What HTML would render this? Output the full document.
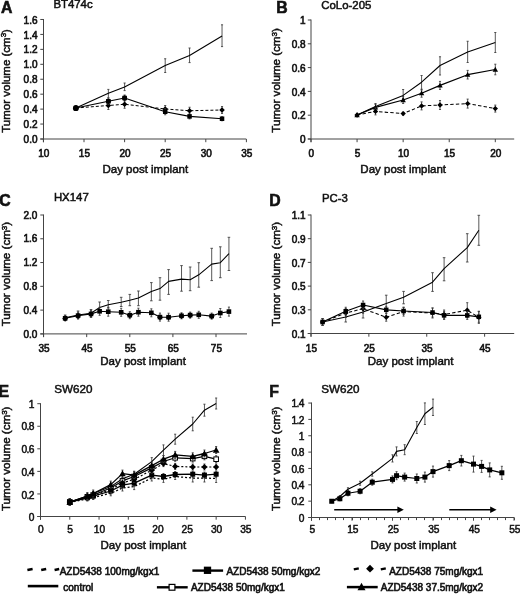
<!DOCTYPE html>
<html><head><meta charset="utf-8"><title>Figure</title>
<style>
html,body{margin:0;padding:0;background:#fff;}
svg{display:block;}
svg text{font-family:"Liberation Sans",Arial,Helvetica,sans-serif;fill:#111;stroke:#111;stroke-width:0.5px;}
svg text.t{stroke-width:0.6px;}
svg text.u{stroke-width:0.5px;}
</style></head><body>
<svg width="520" height="594" viewBox="0 0 520 594">
<rect width="520" height="594" fill="#fff"/>
<text x="1.00" y="12.60" font-size="15.8" text-anchor="start" font-weight="bold" style="stroke-width:0.6px">A</text>
<text x="53.40" y="8.20" font-size="11.4" text-anchor="start" font-weight="normal" style="stroke-width:0.5px">BT474c</text>
<line x1="40.30" y1="139.00" x2="246.30" y2="139.00" stroke="#444" stroke-width="1" />
<line x1="43.50" y1="19.00" x2="43.50" y2="142.20" stroke="#444" stroke-width="1" />
<line x1="43.40" y1="139.00" x2="43.40" y2="142.20" stroke="#444" stroke-width="1" />
<text x="43.80" y="156.80" font-size="10" text-anchor="middle" font-weight="normal" class="t">10</text>
<line x1="84.00" y1="139.00" x2="84.00" y2="142.20" stroke="#444" stroke-width="1" />
<text x="84.40" y="156.80" font-size="10" text-anchor="middle" font-weight="normal" class="t">15</text>
<line x1="124.60" y1="139.00" x2="124.60" y2="142.20" stroke="#444" stroke-width="1" />
<text x="125.00" y="156.80" font-size="10" text-anchor="middle" font-weight="normal" class="t">20</text>
<line x1="165.20" y1="139.00" x2="165.20" y2="142.20" stroke="#444" stroke-width="1" />
<text x="165.60" y="156.80" font-size="10" text-anchor="middle" font-weight="normal" class="t">25</text>
<line x1="205.80" y1="139.00" x2="205.80" y2="142.20" stroke="#444" stroke-width="1" />
<text x="206.20" y="156.80" font-size="10" text-anchor="middle" font-weight="normal" class="t">30</text>
<line x1="246.40" y1="139.00" x2="246.40" y2="142.20" stroke="#444" stroke-width="1" />
<text x="246.80" y="156.80" font-size="10" text-anchor="middle" font-weight="normal" class="t">35</text>
<line x1="40.30" y1="139.00" x2="43.50" y2="139.00" stroke="#444" stroke-width="1" />
<text x="37.50" y="143.10" font-size="10" text-anchor="end" font-weight="normal" class="t">0.0</text>
<line x1="40.30" y1="124.06" x2="43.50" y2="124.06" stroke="#444" stroke-width="1" />
<text x="37.50" y="128.16" font-size="10" text-anchor="end" font-weight="normal" class="t">0.2</text>
<line x1="40.30" y1="109.12" x2="43.50" y2="109.12" stroke="#444" stroke-width="1" />
<text x="37.50" y="113.22" font-size="10" text-anchor="end" font-weight="normal" class="t">0.4</text>
<line x1="40.30" y1="94.18" x2="43.50" y2="94.18" stroke="#444" stroke-width="1" />
<text x="37.50" y="98.28" font-size="10" text-anchor="end" font-weight="normal" class="t">0.6</text>
<line x1="40.30" y1="79.24" x2="43.50" y2="79.24" stroke="#444" stroke-width="1" />
<text x="37.50" y="83.34" font-size="10" text-anchor="end" font-weight="normal" class="t">0.8</text>
<line x1="40.30" y1="64.30" x2="43.50" y2="64.30" stroke="#444" stroke-width="1" />
<text x="37.50" y="68.40" font-size="10" text-anchor="end" font-weight="normal" class="t">1.0</text>
<line x1="40.30" y1="49.36" x2="43.50" y2="49.36" stroke="#444" stroke-width="1" />
<text x="37.50" y="53.46" font-size="10" text-anchor="end" font-weight="normal" class="t">1.2</text>
<line x1="40.30" y1="34.42" x2="43.50" y2="34.42" stroke="#444" stroke-width="1" />
<text x="37.50" y="38.52" font-size="10" text-anchor="end" font-weight="normal" class="t">1.4</text>
<line x1="40.30" y1="19.48" x2="43.50" y2="19.48" stroke="#444" stroke-width="1" />
<text x="37.50" y="23.58" font-size="10" text-anchor="end" font-weight="normal" class="t">1.6</text>
<text transform="translate(10.10,80.90) rotate(-90)" font-size="11.5" text-anchor="middle">Tumor volume (cm<tspan font-size="8" dy="-3.7">3</tspan><tspan dy="3.7">)</tspan></text>
<text x="145.30" y="173.00" font-size="11.5" text-anchor="middle" font-weight="normal" >Day post implant</text>
<line x1="75.88" y1="106.00" x2="75.88" y2="110.00" stroke="#3a3a3a" stroke-width="0.85" />
<line x1="74.83" y1="106.00" x2="76.93" y2="106.00" stroke="#3a3a3a" stroke-width="0.85" />
<line x1="74.83" y1="110.00" x2="76.93" y2="110.00" stroke="#3a3a3a" stroke-width="0.85" />
<line x1="108.36" y1="89.40" x2="108.36" y2="97.70" stroke="#3a3a3a" stroke-width="0.85" />
<line x1="107.31" y1="89.40" x2="109.41" y2="89.40" stroke="#3a3a3a" stroke-width="0.85" />
<line x1="107.31" y1="97.70" x2="109.41" y2="97.70" stroke="#3a3a3a" stroke-width="0.85" />
<line x1="124.60" y1="83.00" x2="124.60" y2="90.60" stroke="#3a3a3a" stroke-width="0.85" />
<line x1="123.55" y1="83.00" x2="125.65" y2="83.00" stroke="#3a3a3a" stroke-width="0.85" />
<line x1="123.55" y1="90.60" x2="125.65" y2="90.60" stroke="#3a3a3a" stroke-width="0.85" />
<line x1="165.20" y1="58.75" x2="165.20" y2="72.50" stroke="#3a3a3a" stroke-width="0.85" />
<line x1="164.15" y1="58.75" x2="166.25" y2="58.75" stroke="#3a3a3a" stroke-width="0.85" />
<line x1="164.15" y1="72.50" x2="166.25" y2="72.50" stroke="#3a3a3a" stroke-width="0.85" />
<line x1="189.56" y1="48.00" x2="189.56" y2="62.60" stroke="#3a3a3a" stroke-width="0.85" />
<line x1="188.51" y1="48.00" x2="190.61" y2="48.00" stroke="#3a3a3a" stroke-width="0.85" />
<line x1="188.51" y1="62.60" x2="190.61" y2="62.60" stroke="#3a3a3a" stroke-width="0.85" />
<line x1="222.04" y1="24.80" x2="222.04" y2="46.60" stroke="#3a3a3a" stroke-width="0.85" />
<line x1="220.99" y1="24.80" x2="223.09" y2="24.80" stroke="#3a3a3a" stroke-width="0.85" />
<line x1="220.99" y1="46.60" x2="223.09" y2="46.60" stroke="#3a3a3a" stroke-width="0.85" />
<polyline points="75.88,108.00 108.36,93.20 124.60,86.90 165.20,65.50 189.56,55.50 222.04,36.00" fill="none" stroke="#000" stroke-width="1.08" stroke-linejoin="round" />
<line x1="75.88" y1="105.50" x2="75.88" y2="110.50" stroke="#3a3a3a" stroke-width="0.85" />
<line x1="74.83" y1="105.50" x2="76.93" y2="105.50" stroke="#3a3a3a" stroke-width="0.85" />
<line x1="74.83" y1="110.50" x2="76.93" y2="110.50" stroke="#3a3a3a" stroke-width="0.85" />
<line x1="108.36" y1="101.50" x2="108.36" y2="109.50" stroke="#3a3a3a" stroke-width="0.85" />
<line x1="107.31" y1="101.50" x2="109.41" y2="101.50" stroke="#3a3a3a" stroke-width="0.85" />
<line x1="107.31" y1="109.50" x2="109.41" y2="109.50" stroke="#3a3a3a" stroke-width="0.85" />
<line x1="124.60" y1="100.25" x2="124.60" y2="108.25" stroke="#3a3a3a" stroke-width="0.85" />
<line x1="123.55" y1="100.25" x2="125.65" y2="100.25" stroke="#3a3a3a" stroke-width="0.85" />
<line x1="123.55" y1="108.25" x2="125.65" y2="108.25" stroke="#3a3a3a" stroke-width="0.85" />
<line x1="165.20" y1="105.50" x2="165.20" y2="112.50" stroke="#3a3a3a" stroke-width="0.85" />
<line x1="164.15" y1="105.50" x2="166.25" y2="105.50" stroke="#3a3a3a" stroke-width="0.85" />
<line x1="164.15" y1="112.50" x2="166.25" y2="112.50" stroke="#3a3a3a" stroke-width="0.85" />
<line x1="189.56" y1="107.25" x2="189.56" y2="114.25" stroke="#3a3a3a" stroke-width="0.85" />
<line x1="188.51" y1="107.25" x2="190.61" y2="107.25" stroke="#3a3a3a" stroke-width="0.85" />
<line x1="188.51" y1="114.25" x2="190.61" y2="114.25" stroke="#3a3a3a" stroke-width="0.85" />
<line x1="222.04" y1="106.50" x2="222.04" y2="113.50" stroke="#3a3a3a" stroke-width="0.85" />
<line x1="220.99" y1="106.50" x2="223.09" y2="106.50" stroke="#3a3a3a" stroke-width="0.85" />
<line x1="220.99" y1="113.50" x2="223.09" y2="113.50" stroke="#3a3a3a" stroke-width="0.85" />
<polyline points="75.88,108.00 108.36,105.50 124.60,104.25 165.20,109.00 189.56,110.75 222.04,110.00" fill="none" stroke="#000" stroke-width="1.0" stroke-linejoin="round" stroke-dasharray="3 2"/>
<path d="M75.88,105.20 L78.68,108.00 L75.88,110.80 L73.08,108.00Z" fill="#000"/>
<path d="M108.36,102.70 L111.16,105.50 L108.36,108.30 L105.56,105.50Z" fill="#000"/>
<path d="M124.60,101.45 L127.40,104.25 L124.60,107.05 L121.80,104.25Z" fill="#000"/>
<path d="M165.20,106.20 L168.00,109.00 L165.20,111.80 L162.40,109.00Z" fill="#000"/>
<path d="M189.56,107.95 L192.36,110.75 L189.56,113.55 L186.76,110.75Z" fill="#000"/>
<path d="M222.04,107.20 L224.84,110.00 L222.04,112.80 L219.24,110.00Z" fill="#000"/>
<line x1="75.88" y1="105.50" x2="75.88" y2="110.50" stroke="#3a3a3a" stroke-width="0.85" />
<line x1="74.83" y1="105.50" x2="76.93" y2="105.50" stroke="#3a3a3a" stroke-width="0.85" />
<line x1="74.83" y1="110.50" x2="76.93" y2="110.50" stroke="#3a3a3a" stroke-width="0.85" />
<line x1="108.36" y1="98.25" x2="108.36" y2="104.25" stroke="#3a3a3a" stroke-width="0.85" />
<line x1="107.31" y1="98.25" x2="109.41" y2="98.25" stroke="#3a3a3a" stroke-width="0.85" />
<line x1="107.31" y1="104.25" x2="109.41" y2="104.25" stroke="#3a3a3a" stroke-width="0.85" />
<line x1="124.60" y1="95.00" x2="124.60" y2="101.00" stroke="#3a3a3a" stroke-width="0.85" />
<line x1="123.55" y1="95.00" x2="125.65" y2="95.00" stroke="#3a3a3a" stroke-width="0.85" />
<line x1="123.55" y1="101.00" x2="125.65" y2="101.00" stroke="#3a3a3a" stroke-width="0.85" />
<line x1="165.20" y1="108.75" x2="165.20" y2="114.75" stroke="#3a3a3a" stroke-width="0.85" />
<line x1="164.15" y1="108.75" x2="166.25" y2="108.75" stroke="#3a3a3a" stroke-width="0.85" />
<line x1="164.15" y1="114.75" x2="166.25" y2="114.75" stroke="#3a3a3a" stroke-width="0.85" />
<line x1="189.56" y1="113.90" x2="189.56" y2="118.90" stroke="#3a3a3a" stroke-width="0.85" />
<line x1="188.51" y1="113.90" x2="190.61" y2="113.90" stroke="#3a3a3a" stroke-width="0.85" />
<line x1="188.51" y1="118.90" x2="190.61" y2="118.90" stroke="#3a3a3a" stroke-width="0.85" />
<line x1="222.04" y1="116.75" x2="222.04" y2="120.75" stroke="#3a3a3a" stroke-width="0.85" />
<line x1="220.99" y1="116.75" x2="223.09" y2="116.75" stroke="#3a3a3a" stroke-width="0.85" />
<line x1="220.99" y1="120.75" x2="223.09" y2="120.75" stroke="#3a3a3a" stroke-width="0.85" />
<polyline points="75.88,108.00 108.36,101.25 124.60,98.00 165.20,111.75 189.56,116.40 222.04,118.75" fill="none" stroke="#000" stroke-width="1.2" stroke-linejoin="round" />
<rect x="73.63" y="105.75" width="4.5" height="4.5" fill="#000" stroke="none" stroke-width="0"/>
<rect x="106.11" y="99.00" width="4.5" height="4.5" fill="#000" stroke="none" stroke-width="0"/>
<rect x="122.35" y="95.75" width="4.5" height="4.5" fill="#000" stroke="none" stroke-width="0"/>
<rect x="162.95" y="109.50" width="4.5" height="4.5" fill="#000" stroke="none" stroke-width="0"/>
<rect x="187.31" y="114.15" width="4.5" height="4.5" fill="#000" stroke="none" stroke-width="0"/>
<rect x="219.79" y="116.50" width="4.5" height="4.5" fill="#000" stroke="none" stroke-width="0"/>
<circle cx="75.88" cy="108.20" r="2.9" fill="#000"/>
<circle cx="108.36" cy="101.25" r="2.5" fill="#000"/>
<circle cx="124.60" cy="98.00" r="2.5" fill="#000"/>
<text x="276.20" y="12.60" font-size="15.8" text-anchor="start" font-weight="bold" style="stroke-width:0.6px">B</text>
<text x="321.30" y="8.50" font-size="11.4" text-anchor="start" font-weight="normal" style="stroke-width:0.5px">CoLo-205</text>
<line x1="307.80" y1="139.00" x2="514.20" y2="139.00" stroke="#444" stroke-width="1" />
<line x1="311.00" y1="19.50" x2="311.00" y2="142.20" stroke="#444" stroke-width="1" />
<line x1="311.00" y1="139.00" x2="311.00" y2="142.20" stroke="#444" stroke-width="1" />
<text x="311.40" y="156.80" font-size="10" text-anchor="middle" font-weight="normal" class="t">0</text>
<line x1="357.07" y1="139.00" x2="357.07" y2="142.20" stroke="#444" stroke-width="1" />
<text x="357.47" y="156.80" font-size="10" text-anchor="middle" font-weight="normal" class="t">5</text>
<line x1="403.15" y1="139.00" x2="403.15" y2="142.20" stroke="#444" stroke-width="1" />
<text x="403.55" y="156.80" font-size="10" text-anchor="middle" font-weight="normal" class="t">10</text>
<line x1="449.23" y1="139.00" x2="449.23" y2="142.20" stroke="#444" stroke-width="1" />
<text x="449.62" y="156.80" font-size="10" text-anchor="middle" font-weight="normal" class="t">15</text>
<line x1="495.30" y1="139.00" x2="495.30" y2="142.20" stroke="#444" stroke-width="1" />
<text x="495.70" y="156.80" font-size="10" text-anchor="middle" font-weight="normal" class="t">20</text>
<line x1="307.80" y1="139.00" x2="311.00" y2="139.00" stroke="#444" stroke-width="1" />
<text x="305.60" y="143.20" font-size="10" text-anchor="end" font-weight="normal" class="t">0</text>
<line x1="307.80" y1="115.20" x2="311.00" y2="115.20" stroke="#444" stroke-width="1" />
<text x="305.60" y="119.40" font-size="10" text-anchor="end" font-weight="normal" class="t">0.2</text>
<line x1="307.80" y1="91.40" x2="311.00" y2="91.40" stroke="#444" stroke-width="1" />
<text x="305.60" y="95.60" font-size="10" text-anchor="end" font-weight="normal" class="t">0.4</text>
<line x1="307.80" y1="67.60" x2="311.00" y2="67.60" stroke="#444" stroke-width="1" />
<text x="305.60" y="71.80" font-size="10" text-anchor="end" font-weight="normal" class="t">0.6</text>
<line x1="307.80" y1="43.80" x2="311.00" y2="43.80" stroke="#444" stroke-width="1" />
<text x="305.60" y="48.00" font-size="10" text-anchor="end" font-weight="normal" class="t">0.8</text>
<line x1="307.80" y1="20.00" x2="311.00" y2="20.00" stroke="#444" stroke-width="1" />
<text x="305.60" y="24.20" font-size="10" text-anchor="end" font-weight="normal" class="t">1</text>
<text transform="translate(280.40,80.40) rotate(-90)" font-size="11.6" text-anchor="middle">Tumor volume (cm<tspan font-size="8" dy="-3.7">3</tspan><tspan dy="3.7">)</tspan></text>
<text x="403.20" y="173.00" font-size="11.5" text-anchor="middle" font-weight="normal" >Day post implant</text>
<line x1="375.50" y1="103.50" x2="375.50" y2="109.50" stroke="#3a3a3a" stroke-width="0.85" />
<line x1="374.45" y1="103.50" x2="376.56" y2="103.50" stroke="#3a3a3a" stroke-width="0.85" />
<line x1="374.45" y1="109.50" x2="376.56" y2="109.50" stroke="#3a3a3a" stroke-width="0.85" />
<line x1="403.15" y1="89.50" x2="403.15" y2="98.50" stroke="#3a3a3a" stroke-width="0.85" />
<line x1="402.10" y1="89.50" x2="404.20" y2="89.50" stroke="#3a3a3a" stroke-width="0.85" />
<line x1="402.10" y1="98.50" x2="404.20" y2="98.50" stroke="#3a3a3a" stroke-width="0.85" />
<line x1="421.58" y1="75.50" x2="421.58" y2="90.00" stroke="#3a3a3a" stroke-width="0.85" />
<line x1="420.53" y1="75.50" x2="422.63" y2="75.50" stroke="#3a3a3a" stroke-width="0.85" />
<line x1="420.53" y1="90.00" x2="422.63" y2="90.00" stroke="#3a3a3a" stroke-width="0.85" />
<line x1="440.01" y1="56.75" x2="440.01" y2="75.00" stroke="#3a3a3a" stroke-width="0.85" />
<line x1="438.96" y1="56.75" x2="441.06" y2="56.75" stroke="#3a3a3a" stroke-width="0.85" />
<line x1="438.96" y1="75.00" x2="441.06" y2="75.00" stroke="#3a3a3a" stroke-width="0.85" />
<line x1="467.65" y1="41.25" x2="467.65" y2="62.50" stroke="#3a3a3a" stroke-width="0.85" />
<line x1="466.60" y1="41.25" x2="468.70" y2="41.25" stroke="#3a3a3a" stroke-width="0.85" />
<line x1="466.60" y1="62.50" x2="468.70" y2="62.50" stroke="#3a3a3a" stroke-width="0.85" />
<line x1="495.30" y1="32.50" x2="495.30" y2="52.50" stroke="#3a3a3a" stroke-width="0.85" />
<line x1="494.25" y1="32.50" x2="496.35" y2="32.50" stroke="#3a3a3a" stroke-width="0.85" />
<line x1="494.25" y1="52.50" x2="496.35" y2="52.50" stroke="#3a3a3a" stroke-width="0.85" />
<polyline points="357.07,115.00 375.50,106.60 403.15,95.40 421.58,82.20 440.01,65.50 467.65,52.00 495.30,42.50" fill="none" stroke="#000" stroke-width="1.08" stroke-linejoin="round" />
<line x1="357.07" y1="113.50" x2="357.07" y2="116.50" stroke="#3a3a3a" stroke-width="0.85" />
<line x1="356.02" y1="113.50" x2="358.12" y2="113.50" stroke="#3a3a3a" stroke-width="0.85" />
<line x1="356.02" y1="116.50" x2="358.12" y2="116.50" stroke="#3a3a3a" stroke-width="0.85" />
<line x1="375.50" y1="104.40" x2="375.50" y2="110.40" stroke="#3a3a3a" stroke-width="0.85" />
<line x1="374.45" y1="104.40" x2="376.56" y2="104.40" stroke="#3a3a3a" stroke-width="0.85" />
<line x1="374.45" y1="110.40" x2="376.56" y2="110.40" stroke="#3a3a3a" stroke-width="0.85" />
<line x1="403.15" y1="96.50" x2="403.15" y2="103.50" stroke="#3a3a3a" stroke-width="0.85" />
<line x1="402.10" y1="96.50" x2="404.20" y2="96.50" stroke="#3a3a3a" stroke-width="0.85" />
<line x1="402.10" y1="103.50" x2="404.20" y2="103.50" stroke="#3a3a3a" stroke-width="0.85" />
<line x1="421.58" y1="89.20" x2="421.58" y2="97.20" stroke="#3a3a3a" stroke-width="0.85" />
<line x1="420.53" y1="89.20" x2="422.63" y2="89.20" stroke="#3a3a3a" stroke-width="0.85" />
<line x1="420.53" y1="97.20" x2="422.63" y2="97.20" stroke="#3a3a3a" stroke-width="0.85" />
<line x1="440.01" y1="81.40" x2="440.01" y2="89.40" stroke="#3a3a3a" stroke-width="0.85" />
<line x1="438.96" y1="81.40" x2="441.06" y2="81.40" stroke="#3a3a3a" stroke-width="0.85" />
<line x1="438.96" y1="89.40" x2="441.06" y2="89.40" stroke="#3a3a3a" stroke-width="0.85" />
<line x1="467.65" y1="70.40" x2="467.65" y2="79.00" stroke="#3a3a3a" stroke-width="0.85" />
<line x1="466.60" y1="70.40" x2="468.70" y2="70.40" stroke="#3a3a3a" stroke-width="0.85" />
<line x1="466.60" y1="79.00" x2="468.70" y2="79.00" stroke="#3a3a3a" stroke-width="0.85" />
<line x1="495.30" y1="64.20" x2="495.30" y2="74.80" stroke="#3a3a3a" stroke-width="0.85" />
<line x1="494.25" y1="64.20" x2="496.35" y2="64.20" stroke="#3a3a3a" stroke-width="0.85" />
<line x1="494.25" y1="74.80" x2="496.35" y2="74.80" stroke="#3a3a3a" stroke-width="0.85" />
<polyline points="357.07,115.00 375.50,107.40 403.15,100.00 421.58,93.20 440.01,85.40 467.65,74.70 495.30,69.50" fill="none" stroke="#000" stroke-width="1.2" stroke-linejoin="round" />
<path d="M357.07,112.30 L359.77,117.16 L354.38,117.16Z" fill="#000"/>
<path d="M375.50,104.70 L378.20,109.56 L372.81,109.56Z" fill="#000"/>
<path d="M403.15,97.30 L405.85,102.16 L400.45,102.16Z" fill="#000"/>
<path d="M421.58,90.50 L424.28,95.36 L418.88,95.36Z" fill="#000"/>
<path d="M440.01,82.70 L442.71,87.56 L437.31,87.56Z" fill="#000"/>
<path d="M467.65,72.00 L470.35,76.86 L464.95,76.86Z" fill="#000"/>
<path d="M495.30,66.80 L498.00,71.66 L492.60,71.66Z" fill="#000"/>
<line x1="357.07" y1="113.50" x2="357.07" y2="116.50" stroke="#3a3a3a" stroke-width="0.85" />
<line x1="356.02" y1="113.50" x2="358.12" y2="113.50" stroke="#3a3a3a" stroke-width="0.85" />
<line x1="356.02" y1="116.50" x2="358.12" y2="116.50" stroke="#3a3a3a" stroke-width="0.85" />
<line x1="375.50" y1="107.90" x2="375.50" y2="114.90" stroke="#3a3a3a" stroke-width="0.85" />
<line x1="374.45" y1="107.90" x2="376.56" y2="107.90" stroke="#3a3a3a" stroke-width="0.85" />
<line x1="374.45" y1="114.90" x2="376.56" y2="114.90" stroke="#3a3a3a" stroke-width="0.85" />
<line x1="403.15" y1="112.10" x2="403.15" y2="115.10" stroke="#3a3a3a" stroke-width="0.85" />
<line x1="402.10" y1="112.10" x2="404.20" y2="112.10" stroke="#3a3a3a" stroke-width="0.85" />
<line x1="402.10" y1="115.10" x2="404.20" y2="115.10" stroke="#3a3a3a" stroke-width="0.85" />
<line x1="421.58" y1="101.90" x2="421.58" y2="109.90" stroke="#3a3a3a" stroke-width="0.85" />
<line x1="420.53" y1="101.90" x2="422.63" y2="101.90" stroke="#3a3a3a" stroke-width="0.85" />
<line x1="420.53" y1="109.90" x2="422.63" y2="109.90" stroke="#3a3a3a" stroke-width="0.85" />
<line x1="440.01" y1="100.50" x2="440.01" y2="109.50" stroke="#3a3a3a" stroke-width="0.85" />
<line x1="438.96" y1="100.50" x2="441.06" y2="100.50" stroke="#3a3a3a" stroke-width="0.85" />
<line x1="438.96" y1="109.50" x2="441.06" y2="109.50" stroke="#3a3a3a" stroke-width="0.85" />
<line x1="467.65" y1="99.10" x2="467.65" y2="108.10" stroke="#3a3a3a" stroke-width="0.85" />
<line x1="466.60" y1="99.10" x2="468.70" y2="99.10" stroke="#3a3a3a" stroke-width="0.85" />
<line x1="466.60" y1="108.10" x2="468.70" y2="108.10" stroke="#3a3a3a" stroke-width="0.85" />
<line x1="495.30" y1="105.10" x2="495.30" y2="112.10" stroke="#3a3a3a" stroke-width="0.85" />
<line x1="494.25" y1="105.10" x2="496.35" y2="105.10" stroke="#3a3a3a" stroke-width="0.85" />
<line x1="494.25" y1="112.10" x2="496.35" y2="112.10" stroke="#3a3a3a" stroke-width="0.85" />
<polyline points="357.07,115.00 375.50,111.40 403.15,113.60 421.58,105.90 440.01,105.00 467.65,103.60 495.30,108.60" fill="none" stroke="#000" stroke-width="1.05" stroke-linejoin="round" stroke-dasharray="3.4 2.2"/>
<path d="M357.07,112.30 L359.77,115.00 L357.07,117.70 L354.38,115.00Z" fill="#000"/>
<path d="M375.50,108.70 L378.20,111.40 L375.50,114.10 L372.81,111.40Z" fill="#000"/>
<path d="M403.15,110.90 L405.85,113.60 L403.15,116.30 L400.45,113.60Z" fill="#000"/>
<path d="M421.58,103.20 L424.28,105.90 L421.58,108.60 L418.88,105.90Z" fill="#000"/>
<path d="M440.01,102.30 L442.71,105.00 L440.01,107.70 L437.31,105.00Z" fill="#000"/>
<path d="M467.65,100.90 L470.35,103.60 L467.65,106.30 L464.95,103.60Z" fill="#000"/>
<path d="M495.30,105.90 L498.00,108.60 L495.30,111.30 L492.60,108.60Z" fill="#000"/>
<text x="-0.80" y="205.90" font-size="15.8" text-anchor="start" font-weight="bold" style="stroke-width:0.6px">C</text>
<text x="53.90" y="201.40" font-size="11.4" text-anchor="start" font-weight="normal" style="stroke-width:0.5px">HX147</text>
<line x1="40.30" y1="333.90" x2="247.00" y2="333.90" stroke="#444" stroke-width="1" />
<line x1="43.50" y1="214.50" x2="43.50" y2="337.10" stroke="#444" stroke-width="1" />
<line x1="43.60" y1="333.90" x2="43.60" y2="337.10" stroke="#444" stroke-width="1" />
<text x="44.00" y="351.80" font-size="10" text-anchor="middle" font-weight="normal" class="t">35</text>
<line x1="86.70" y1="333.90" x2="86.70" y2="337.10" stroke="#444" stroke-width="1" />
<text x="87.10" y="351.80" font-size="10" text-anchor="middle" font-weight="normal" class="t">45</text>
<line x1="129.80" y1="333.90" x2="129.80" y2="337.10" stroke="#444" stroke-width="1" />
<text x="130.20" y="351.80" font-size="10" text-anchor="middle" font-weight="normal" class="t">55</text>
<line x1="172.90" y1="333.90" x2="172.90" y2="337.10" stroke="#444" stroke-width="1" />
<text x="173.30" y="351.80" font-size="10" text-anchor="middle" font-weight="normal" class="t">65</text>
<line x1="216.00" y1="333.90" x2="216.00" y2="337.10" stroke="#444" stroke-width="1" />
<text x="216.40" y="351.80" font-size="10" text-anchor="middle" font-weight="normal" class="t">75</text>
<line x1="40.30" y1="333.90" x2="43.50" y2="333.90" stroke="#444" stroke-width="1" />
<text x="37.30" y="337.50" font-size="10" text-anchor="end" font-weight="normal" class="t">0.0</text>
<line x1="40.30" y1="310.12" x2="43.50" y2="310.12" stroke="#444" stroke-width="1" />
<text x="37.30" y="313.72" font-size="10" text-anchor="end" font-weight="normal" class="t">0.4</text>
<line x1="40.30" y1="286.34" x2="43.50" y2="286.34" stroke="#444" stroke-width="1" />
<text x="37.30" y="289.94" font-size="10" text-anchor="end" font-weight="normal" class="t">0.8</text>
<line x1="40.30" y1="262.56" x2="43.50" y2="262.56" stroke="#444" stroke-width="1" />
<text x="37.30" y="266.16" font-size="10" text-anchor="end" font-weight="normal" class="t">1.2</text>
<line x1="40.30" y1="238.78" x2="43.50" y2="238.78" stroke="#444" stroke-width="1" />
<text x="37.30" y="242.38" font-size="10" text-anchor="end" font-weight="normal" class="t">1.6</text>
<line x1="40.30" y1="215.00" x2="43.50" y2="215.00" stroke="#444" stroke-width="1" />
<text x="37.30" y="218.60" font-size="10" text-anchor="end" font-weight="normal" class="t">2.0</text>
<text transform="translate(10.40,274.10) rotate(-90)" font-size="11.6" text-anchor="middle">Tumor volume (cm<tspan font-size="8" dy="-3.7">3</tspan><tspan dy="3.7">)</tspan></text>
<text x="143.10" y="365.40" font-size="11.5" text-anchor="middle" font-weight="normal" >Day post implant</text>
<line x1="65.15" y1="315.00" x2="65.15" y2="320.50" stroke="#3a3a3a" stroke-width="0.85" />
<line x1="63.85" y1="315.00" x2="66.45" y2="315.00" stroke="#3a3a3a" stroke-width="0.85" />
<line x1="63.85" y1="320.50" x2="66.45" y2="320.50" stroke="#3a3a3a" stroke-width="0.85" />
<line x1="78.08" y1="311.00" x2="78.08" y2="318.50" stroke="#3a3a3a" stroke-width="0.85" />
<line x1="76.78" y1="311.00" x2="79.38" y2="311.00" stroke="#3a3a3a" stroke-width="0.85" />
<line x1="76.78" y1="318.50" x2="79.38" y2="318.50" stroke="#3a3a3a" stroke-width="0.85" />
<line x1="91.01" y1="309.50" x2="91.01" y2="317.00" stroke="#3a3a3a" stroke-width="0.85" />
<line x1="89.71" y1="309.50" x2="92.31" y2="309.50" stroke="#3a3a3a" stroke-width="0.85" />
<line x1="89.71" y1="317.00" x2="92.31" y2="317.00" stroke="#3a3a3a" stroke-width="0.85" />
<line x1="99.63" y1="302.00" x2="99.63" y2="312.00" stroke="#3a3a3a" stroke-width="0.85" />
<line x1="98.33" y1="302.00" x2="100.93" y2="302.00" stroke="#3a3a3a" stroke-width="0.85" />
<line x1="98.33" y1="312.00" x2="100.93" y2="312.00" stroke="#3a3a3a" stroke-width="0.85" />
<line x1="108.25" y1="300.50" x2="108.25" y2="308.00" stroke="#3a3a3a" stroke-width="0.85" />
<line x1="106.95" y1="300.50" x2="109.55" y2="300.50" stroke="#3a3a3a" stroke-width="0.85" />
<line x1="106.95" y1="308.00" x2="109.55" y2="308.00" stroke="#3a3a3a" stroke-width="0.85" />
<line x1="121.18" y1="297.30" x2="121.18" y2="306.50" stroke="#3a3a3a" stroke-width="0.85" />
<line x1="119.88" y1="297.30" x2="122.48" y2="297.30" stroke="#3a3a3a" stroke-width="0.85" />
<line x1="119.88" y1="306.50" x2="122.48" y2="306.50" stroke="#3a3a3a" stroke-width="0.85" />
<line x1="129.80" y1="294.40" x2="129.80" y2="305.70" stroke="#3a3a3a" stroke-width="0.85" />
<line x1="128.50" y1="294.40" x2="131.10" y2="294.40" stroke="#3a3a3a" stroke-width="0.85" />
<line x1="128.50" y1="305.70" x2="131.10" y2="305.70" stroke="#3a3a3a" stroke-width="0.85" />
<line x1="138.42" y1="291.00" x2="138.42" y2="305.70" stroke="#3a3a3a" stroke-width="0.85" />
<line x1="137.12" y1="291.00" x2="139.72" y2="291.00" stroke="#3a3a3a" stroke-width="0.85" />
<line x1="137.12" y1="305.70" x2="139.72" y2="305.70" stroke="#3a3a3a" stroke-width="0.85" />
<line x1="151.35" y1="282.60" x2="151.35" y2="300.80" stroke="#3a3a3a" stroke-width="0.85" />
<line x1="150.05" y1="282.60" x2="152.65" y2="282.60" stroke="#3a3a3a" stroke-width="0.85" />
<line x1="150.05" y1="300.80" x2="152.65" y2="300.80" stroke="#3a3a3a" stroke-width="0.85" />
<line x1="159.97" y1="277.70" x2="159.97" y2="300.20" stroke="#3a3a3a" stroke-width="0.85" />
<line x1="158.67" y1="277.70" x2="161.27" y2="277.70" stroke="#3a3a3a" stroke-width="0.85" />
<line x1="158.67" y1="300.20" x2="161.27" y2="300.20" stroke="#3a3a3a" stroke-width="0.85" />
<line x1="168.59" y1="269.60" x2="168.59" y2="294.40" stroke="#3a3a3a" stroke-width="0.85" />
<line x1="167.29" y1="269.60" x2="169.89" y2="269.60" stroke="#3a3a3a" stroke-width="0.85" />
<line x1="167.29" y1="294.40" x2="169.89" y2="294.40" stroke="#3a3a3a" stroke-width="0.85" />
<line x1="181.52" y1="265.60" x2="181.52" y2="291.20" stroke="#3a3a3a" stroke-width="0.85" />
<line x1="180.22" y1="265.60" x2="182.82" y2="265.60" stroke="#3a3a3a" stroke-width="0.85" />
<line x1="180.22" y1="291.20" x2="182.82" y2="291.20" stroke="#3a3a3a" stroke-width="0.85" />
<line x1="190.14" y1="267.00" x2="190.14" y2="290.70" stroke="#3a3a3a" stroke-width="0.85" />
<line x1="188.84" y1="267.00" x2="191.44" y2="267.00" stroke="#3a3a3a" stroke-width="0.85" />
<line x1="188.84" y1="290.70" x2="191.44" y2="290.70" stroke="#3a3a3a" stroke-width="0.85" />
<line x1="198.76" y1="262.70" x2="198.76" y2="287.20" stroke="#3a3a3a" stroke-width="0.85" />
<line x1="197.46" y1="262.70" x2="200.06" y2="262.70" stroke="#3a3a3a" stroke-width="0.85" />
<line x1="197.46" y1="287.20" x2="200.06" y2="287.20" stroke="#3a3a3a" stroke-width="0.85" />
<line x1="211.69" y1="248.30" x2="211.69" y2="280.60" stroke="#3a3a3a" stroke-width="0.85" />
<line x1="210.39" y1="248.30" x2="212.99" y2="248.30" stroke="#3a3a3a" stroke-width="0.85" />
<line x1="210.39" y1="280.60" x2="212.99" y2="280.60" stroke="#3a3a3a" stroke-width="0.85" />
<line x1="220.31" y1="246.80" x2="220.31" y2="277.70" stroke="#3a3a3a" stroke-width="0.85" />
<line x1="219.01" y1="246.80" x2="221.61" y2="246.80" stroke="#3a3a3a" stroke-width="0.85" />
<line x1="219.01" y1="277.70" x2="221.61" y2="277.70" stroke="#3a3a3a" stroke-width="0.85" />
<line x1="228.93" y1="237.30" x2="228.93" y2="270.50" stroke="#3a3a3a" stroke-width="0.85" />
<line x1="227.63" y1="237.30" x2="230.23" y2="237.30" stroke="#3a3a3a" stroke-width="0.85" />
<line x1="227.63" y1="270.50" x2="230.23" y2="270.50" stroke="#3a3a3a" stroke-width="0.85" />
<polyline points="65.15,317.80 78.08,315.00 91.01,313.30 99.63,307.50 108.25,304.80 121.18,302.20 129.80,300.20 138.42,297.90 151.35,291.50 159.97,288.60 168.59,281.40 181.52,279.10 190.14,279.70 198.76,274.80 211.69,264.10 220.31,262.70 228.93,253.70" fill="none" stroke="#000" stroke-width="1.08" stroke-linejoin="round" />
<line x1="65.15" y1="315.80" x2="65.15" y2="320.80" stroke="#3a3a3a" stroke-width="0.85" />
<line x1="64.10" y1="315.80" x2="66.20" y2="315.80" stroke="#3a3a3a" stroke-width="0.85" />
<line x1="64.10" y1="320.80" x2="66.20" y2="320.80" stroke="#3a3a3a" stroke-width="0.85" />
<line x1="78.08" y1="312.10" x2="78.08" y2="319.10" stroke="#3a3a3a" stroke-width="0.85" />
<line x1="77.03" y1="312.10" x2="79.13" y2="312.10" stroke="#3a3a3a" stroke-width="0.85" />
<line x1="77.03" y1="319.10" x2="79.13" y2="319.10" stroke="#3a3a3a" stroke-width="0.85" />
<line x1="91.01" y1="310.40" x2="91.01" y2="317.40" stroke="#3a3a3a" stroke-width="0.85" />
<line x1="89.96" y1="310.40" x2="92.06" y2="310.40" stroke="#3a3a3a" stroke-width="0.85" />
<line x1="89.96" y1="317.40" x2="92.06" y2="317.40" stroke="#3a3a3a" stroke-width="0.85" />
<line x1="99.63" y1="307.30" x2="99.63" y2="315.30" stroke="#3a3a3a" stroke-width="0.85" />
<line x1="98.58" y1="307.30" x2="100.68" y2="307.30" stroke="#3a3a3a" stroke-width="0.85" />
<line x1="98.58" y1="315.30" x2="100.68" y2="315.30" stroke="#3a3a3a" stroke-width="0.85" />
<line x1="108.25" y1="307.20" x2="108.25" y2="316.20" stroke="#3a3a3a" stroke-width="0.85" />
<line x1="107.20" y1="307.20" x2="109.30" y2="307.20" stroke="#3a3a3a" stroke-width="0.85" />
<line x1="107.20" y1="316.20" x2="109.30" y2="316.20" stroke="#3a3a3a" stroke-width="0.85" />
<line x1="121.18" y1="308.30" x2="121.18" y2="316.30" stroke="#3a3a3a" stroke-width="0.85" />
<line x1="120.13" y1="308.30" x2="122.23" y2="308.30" stroke="#3a3a3a" stroke-width="0.85" />
<line x1="120.13" y1="316.30" x2="122.23" y2="316.30" stroke="#3a3a3a" stroke-width="0.85" />
<line x1="129.80" y1="311.70" x2="129.80" y2="318.70" stroke="#3a3a3a" stroke-width="0.85" />
<line x1="128.75" y1="311.70" x2="130.85" y2="311.70" stroke="#3a3a3a" stroke-width="0.85" />
<line x1="128.75" y1="318.70" x2="130.85" y2="318.70" stroke="#3a3a3a" stroke-width="0.85" />
<line x1="138.42" y1="308.20" x2="138.42" y2="316.20" stroke="#3a3a3a" stroke-width="0.85" />
<line x1="137.37" y1="308.20" x2="139.47" y2="308.20" stroke="#3a3a3a" stroke-width="0.85" />
<line x1="137.37" y1="316.20" x2="139.47" y2="316.20" stroke="#3a3a3a" stroke-width="0.85" />
<line x1="151.35" y1="308.80" x2="151.35" y2="316.80" stroke="#3a3a3a" stroke-width="0.85" />
<line x1="150.30" y1="308.80" x2="152.40" y2="308.80" stroke="#3a3a3a" stroke-width="0.85" />
<line x1="150.30" y1="316.80" x2="152.40" y2="316.80" stroke="#3a3a3a" stroke-width="0.85" />
<line x1="159.97" y1="313.10" x2="159.97" y2="321.10" stroke="#3a3a3a" stroke-width="0.85" />
<line x1="158.92" y1="313.10" x2="161.02" y2="313.10" stroke="#3a3a3a" stroke-width="0.85" />
<line x1="158.92" y1="321.10" x2="161.02" y2="321.10" stroke="#3a3a3a" stroke-width="0.85" />
<line x1="168.59" y1="313.20" x2="168.59" y2="321.20" stroke="#3a3a3a" stroke-width="0.85" />
<line x1="167.54" y1="313.20" x2="169.64" y2="313.20" stroke="#3a3a3a" stroke-width="0.85" />
<line x1="167.54" y1="321.20" x2="169.64" y2="321.20" stroke="#3a3a3a" stroke-width="0.85" />
<line x1="181.52" y1="312.80" x2="181.52" y2="318.80" stroke="#3a3a3a" stroke-width="0.85" />
<line x1="180.47" y1="312.80" x2="182.57" y2="312.80" stroke="#3a3a3a" stroke-width="0.85" />
<line x1="180.47" y1="318.80" x2="182.57" y2="318.80" stroke="#3a3a3a" stroke-width="0.85" />
<line x1="190.14" y1="312.10" x2="190.14" y2="318.10" stroke="#3a3a3a" stroke-width="0.85" />
<line x1="189.09" y1="312.10" x2="191.19" y2="312.10" stroke="#3a3a3a" stroke-width="0.85" />
<line x1="189.09" y1="318.10" x2="191.19" y2="318.10" stroke="#3a3a3a" stroke-width="0.85" />
<line x1="198.76" y1="311.30" x2="198.76" y2="318.30" stroke="#3a3a3a" stroke-width="0.85" />
<line x1="197.71" y1="311.30" x2="199.81" y2="311.30" stroke="#3a3a3a" stroke-width="0.85" />
<line x1="197.71" y1="318.30" x2="199.81" y2="318.30" stroke="#3a3a3a" stroke-width="0.85" />
<line x1="211.69" y1="313.10" x2="211.69" y2="319.10" stroke="#3a3a3a" stroke-width="0.85" />
<line x1="210.64" y1="313.10" x2="212.74" y2="313.10" stroke="#3a3a3a" stroke-width="0.85" />
<line x1="210.64" y1="319.10" x2="212.74" y2="319.10" stroke="#3a3a3a" stroke-width="0.85" />
<line x1="220.31" y1="308.50" x2="220.31" y2="317.50" stroke="#3a3a3a" stroke-width="0.85" />
<line x1="219.26" y1="308.50" x2="221.36" y2="308.50" stroke="#3a3a3a" stroke-width="0.85" />
<line x1="219.26" y1="317.50" x2="221.36" y2="317.50" stroke="#3a3a3a" stroke-width="0.85" />
<line x1="228.93" y1="307.10" x2="228.93" y2="316.10" stroke="#3a3a3a" stroke-width="0.85" />
<line x1="227.88" y1="307.10" x2="229.98" y2="307.10" stroke="#3a3a3a" stroke-width="0.85" />
<line x1="227.88" y1="316.10" x2="229.98" y2="316.10" stroke="#3a3a3a" stroke-width="0.85" />
<polyline points="65.15,318.30 78.08,315.60 91.01,313.90 99.63,311.30 108.25,311.70 121.18,312.30 129.80,315.20 138.42,312.20 151.35,312.80 159.97,317.10 168.59,317.20 181.52,315.80 190.14,315.10 198.76,314.80 211.69,316.10 220.31,313.00 228.93,311.60" fill="none" stroke="#000" stroke-width="1.1" stroke-linejoin="round" />
<rect x="62.85" y="316.00" width="4.6" height="4.6" fill="#000" stroke="none" stroke-width="0"/>
<rect x="75.78" y="313.30" width="4.6" height="4.6" fill="#000" stroke="none" stroke-width="0"/>
<rect x="88.71" y="311.60" width="4.6" height="4.6" fill="#000" stroke="none" stroke-width="0"/>
<rect x="97.33" y="309.00" width="4.6" height="4.6" fill="#000" stroke="none" stroke-width="0"/>
<rect x="105.95" y="309.40" width="4.6" height="4.6" fill="#000" stroke="none" stroke-width="0"/>
<rect x="118.88" y="310.00" width="4.6" height="4.6" fill="#000" stroke="none" stroke-width="0"/>
<rect x="127.50" y="312.90" width="4.6" height="4.6" fill="#000" stroke="none" stroke-width="0"/>
<rect x="136.12" y="309.90" width="4.6" height="4.6" fill="#000" stroke="none" stroke-width="0"/>
<rect x="149.05" y="310.50" width="4.6" height="4.6" fill="#000" stroke="none" stroke-width="0"/>
<rect x="157.67" y="314.80" width="4.6" height="4.6" fill="#000" stroke="none" stroke-width="0"/>
<rect x="166.29" y="314.90" width="4.6" height="4.6" fill="#000" stroke="none" stroke-width="0"/>
<rect x="179.22" y="313.50" width="4.6" height="4.6" fill="#000" stroke="none" stroke-width="0"/>
<rect x="187.84" y="312.80" width="4.6" height="4.6" fill="#000" stroke="none" stroke-width="0"/>
<rect x="196.46" y="312.50" width="4.6" height="4.6" fill="#000" stroke="none" stroke-width="0"/>
<rect x="209.39" y="313.80" width="4.6" height="4.6" fill="#000" stroke="none" stroke-width="0"/>
<rect x="218.01" y="310.70" width="4.6" height="4.6" fill="#000" stroke="none" stroke-width="0"/>
<rect x="226.63" y="309.30" width="4.6" height="4.6" fill="#000" stroke="none" stroke-width="0"/>
<path d="M65.15,315.60 L68.05,318.50 L65.15,321.40 L62.25,318.50Z" fill="#000"/>
<path d="M78.08,312.90 L80.98,315.80 L78.08,318.70 L75.18,315.80Z" fill="#000"/>
<path d="M91.01,311.20 L93.91,314.10 L91.01,317.00 L88.11,314.10Z" fill="#000"/>
<path d="M129.80,312.50 L132.70,315.40 L129.80,318.30 L126.90,315.40Z" fill="#000"/>
<path d="M159.97,314.40 L162.87,317.30 L159.97,320.20 L157.07,317.30Z" fill="#000"/>
<path d="M168.59,314.50 L171.49,317.40 L168.59,320.30 L165.69,317.40Z" fill="#000"/>
<path d="M181.52,313.10 L184.42,316.00 L181.52,318.90 L178.62,316.00Z" fill="#000"/>
<path d="M190.14,312.40 L193.04,315.30 L190.14,318.20 L187.24,315.30Z" fill="#000"/>
<path d="M211.69,313.40 L214.59,316.30 L211.69,319.20 L208.79,316.30Z" fill="#000"/>
<text x="269.30" y="205.60" font-size="15.8" text-anchor="start" font-weight="bold" style="stroke-width:0.6px">D</text>
<text x="321.90" y="201.60" font-size="11.4" text-anchor="start" font-weight="normal" style="stroke-width:0.5px">PC-3</text>
<line x1="307.80" y1="333.50" x2="514.20" y2="333.50" stroke="#444" stroke-width="1" />
<line x1="311.00" y1="214.50" x2="311.00" y2="336.70" stroke="#444" stroke-width="1" />
<line x1="311.00" y1="333.50" x2="311.00" y2="336.70" stroke="#444" stroke-width="1" />
<text x="311.40" y="351.70" font-size="10" text-anchor="middle" font-weight="normal" class="t">15</text>
<line x1="368.87" y1="333.50" x2="368.87" y2="336.70" stroke="#444" stroke-width="1" />
<text x="369.27" y="351.70" font-size="10" text-anchor="middle" font-weight="normal" class="t">25</text>
<line x1="426.74" y1="333.50" x2="426.74" y2="336.70" stroke="#444" stroke-width="1" />
<text x="427.14" y="351.70" font-size="10" text-anchor="middle" font-weight="normal" class="t">35</text>
<line x1="484.61" y1="333.50" x2="484.61" y2="336.70" stroke="#444" stroke-width="1" />
<text x="485.01" y="351.70" font-size="10" text-anchor="middle" font-weight="normal" class="t">45</text>
<line x1="307.80" y1="333.50" x2="311.00" y2="333.50" stroke="#444" stroke-width="1" />
<text x="305.60" y="337.60" font-size="10" text-anchor="end" font-weight="normal" class="t">0.1</text>
<line x1="307.80" y1="309.80" x2="311.00" y2="309.80" stroke="#444" stroke-width="1" />
<text x="305.60" y="313.90" font-size="10" text-anchor="end" font-weight="normal" class="t">0.3</text>
<line x1="307.80" y1="286.10" x2="311.00" y2="286.10" stroke="#444" stroke-width="1" />
<text x="305.60" y="290.20" font-size="10" text-anchor="end" font-weight="normal" class="t">0.5</text>
<line x1="307.80" y1="262.40" x2="311.00" y2="262.40" stroke="#444" stroke-width="1" />
<text x="305.60" y="266.50" font-size="10" text-anchor="end" font-weight="normal" class="t">0.7</text>
<line x1="307.80" y1="238.70" x2="311.00" y2="238.70" stroke="#444" stroke-width="1" />
<text x="305.60" y="242.80" font-size="10" text-anchor="end" font-weight="normal" class="t">0.9</text>
<line x1="307.80" y1="215.00" x2="311.00" y2="215.00" stroke="#444" stroke-width="1" />
<text x="305.60" y="219.10" font-size="10" text-anchor="end" font-weight="normal" class="t">1.1</text>
<text transform="translate(280.20,274.10) rotate(-90)" font-size="11.6" text-anchor="middle">Tumor volume (cm<tspan font-size="8" dy="-3.7">3</tspan><tspan dy="3.7">)</tspan></text>
<text x="410.60" y="365.40" font-size="11.5" text-anchor="middle" font-weight="normal" >Day post implant</text>
<line x1="322.57" y1="319.00" x2="322.57" y2="325.00" stroke="#3a3a3a" stroke-width="0.85" />
<line x1="321.27" y1="319.00" x2="323.87" y2="319.00" stroke="#3a3a3a" stroke-width="0.85" />
<line x1="321.27" y1="325.00" x2="323.87" y2="325.00" stroke="#3a3a3a" stroke-width="0.85" />
<line x1="345.72" y1="312.00" x2="345.72" y2="322.00" stroke="#3a3a3a" stroke-width="0.85" />
<line x1="344.42" y1="312.00" x2="347.02" y2="312.00" stroke="#3a3a3a" stroke-width="0.85" />
<line x1="344.42" y1="322.00" x2="347.02" y2="322.00" stroke="#3a3a3a" stroke-width="0.85" />
<line x1="363.08" y1="306.00" x2="363.08" y2="318.00" stroke="#3a3a3a" stroke-width="0.85" />
<line x1="361.78" y1="306.00" x2="364.38" y2="306.00" stroke="#3a3a3a" stroke-width="0.85" />
<line x1="361.78" y1="318.00" x2="364.38" y2="318.00" stroke="#3a3a3a" stroke-width="0.85" />
<line x1="386.23" y1="295.20" x2="386.23" y2="311.00" stroke="#3a3a3a" stroke-width="0.85" />
<line x1="384.93" y1="295.20" x2="387.53" y2="295.20" stroke="#3a3a3a" stroke-width="0.85" />
<line x1="384.93" y1="311.00" x2="387.53" y2="311.00" stroke="#3a3a3a" stroke-width="0.85" />
<line x1="403.59" y1="291.40" x2="403.59" y2="303.80" stroke="#3a3a3a" stroke-width="0.85" />
<line x1="402.29" y1="291.40" x2="404.89" y2="291.40" stroke="#3a3a3a" stroke-width="0.85" />
<line x1="402.29" y1="303.80" x2="404.89" y2="303.80" stroke="#3a3a3a" stroke-width="0.85" />
<line x1="432.53" y1="272.70" x2="432.53" y2="291.40" stroke="#3a3a3a" stroke-width="0.85" />
<line x1="431.23" y1="272.70" x2="433.83" y2="272.70" stroke="#3a3a3a" stroke-width="0.85" />
<line x1="431.23" y1="291.40" x2="433.83" y2="291.40" stroke="#3a3a3a" stroke-width="0.85" />
<line x1="444.10" y1="257.70" x2="444.10" y2="280.80" stroke="#3a3a3a" stroke-width="0.85" />
<line x1="442.80" y1="257.70" x2="445.40" y2="257.70" stroke="#3a3a3a" stroke-width="0.85" />
<line x1="442.80" y1="280.80" x2="445.40" y2="280.80" stroke="#3a3a3a" stroke-width="0.85" />
<line x1="467.25" y1="233.70" x2="467.25" y2="262.00" stroke="#3a3a3a" stroke-width="0.85" />
<line x1="465.95" y1="233.70" x2="468.55" y2="233.70" stroke="#3a3a3a" stroke-width="0.85" />
<line x1="465.95" y1="262.00" x2="468.55" y2="262.00" stroke="#3a3a3a" stroke-width="0.85" />
<line x1="478.82" y1="215.30" x2="478.82" y2="245.30" stroke="#3a3a3a" stroke-width="0.85" />
<line x1="477.52" y1="215.30" x2="480.12" y2="215.30" stroke="#3a3a3a" stroke-width="0.85" />
<line x1="477.52" y1="245.30" x2="480.12" y2="245.30" stroke="#3a3a3a" stroke-width="0.85" />
<polyline points="322.57,322.00 345.72,317.00 363.08,312.00 386.23,303.40 403.59,297.20 432.53,282.20 444.10,268.60 467.25,247.60 478.82,230.30" fill="none" stroke="#000" stroke-width="1.08" stroke-linejoin="round" />
<line x1="322.57" y1="318.50" x2="322.57" y2="325.50" stroke="#3a3a3a" stroke-width="0.85" />
<line x1="321.52" y1="318.50" x2="323.62" y2="318.50" stroke="#3a3a3a" stroke-width="0.85" />
<line x1="321.52" y1="325.50" x2="323.62" y2="325.50" stroke="#3a3a3a" stroke-width="0.85" />
<line x1="345.72" y1="308.50" x2="345.72" y2="317.50" stroke="#3a3a3a" stroke-width="0.85" />
<line x1="344.67" y1="308.50" x2="346.77" y2="308.50" stroke="#3a3a3a" stroke-width="0.85" />
<line x1="344.67" y1="317.50" x2="346.77" y2="317.50" stroke="#3a3a3a" stroke-width="0.85" />
<line x1="363.08" y1="304.25" x2="363.08" y2="313.25" stroke="#3a3a3a" stroke-width="0.85" />
<line x1="362.03" y1="304.25" x2="364.13" y2="304.25" stroke="#3a3a3a" stroke-width="0.85" />
<line x1="362.03" y1="313.25" x2="364.13" y2="313.25" stroke="#3a3a3a" stroke-width="0.85" />
<line x1="386.23" y1="313.20" x2="386.23" y2="321.20" stroke="#3a3a3a" stroke-width="0.85" />
<line x1="385.18" y1="313.20" x2="387.28" y2="313.20" stroke="#3a3a3a" stroke-width="0.85" />
<line x1="385.18" y1="321.20" x2="387.28" y2="321.20" stroke="#3a3a3a" stroke-width="0.85" />
<line x1="403.59" y1="307.10" x2="403.59" y2="316.10" stroke="#3a3a3a" stroke-width="0.85" />
<line x1="402.54" y1="307.10" x2="404.64" y2="307.10" stroke="#3a3a3a" stroke-width="0.85" />
<line x1="402.54" y1="316.10" x2="404.64" y2="316.10" stroke="#3a3a3a" stroke-width="0.85" />
<line x1="432.53" y1="308.00" x2="432.53" y2="318.00" stroke="#3a3a3a" stroke-width="0.85" />
<line x1="431.48" y1="308.00" x2="433.58" y2="308.00" stroke="#3a3a3a" stroke-width="0.85" />
<line x1="431.48" y1="318.00" x2="433.58" y2="318.00" stroke="#3a3a3a" stroke-width="0.85" />
<line x1="444.10" y1="310.00" x2="444.10" y2="319.00" stroke="#3a3a3a" stroke-width="0.85" />
<line x1="443.05" y1="310.00" x2="445.15" y2="310.00" stroke="#3a3a3a" stroke-width="0.85" />
<line x1="443.05" y1="319.00" x2="445.15" y2="319.00" stroke="#3a3a3a" stroke-width="0.85" />
<line x1="467.25" y1="302.70" x2="467.25" y2="317.70" stroke="#3a3a3a" stroke-width="0.85" />
<line x1="466.20" y1="302.70" x2="468.30" y2="302.70" stroke="#3a3a3a" stroke-width="0.85" />
<line x1="466.20" y1="317.70" x2="468.30" y2="317.70" stroke="#3a3a3a" stroke-width="0.85" />
<line x1="478.82" y1="311.40" x2="478.82" y2="323.40" stroke="#3a3a3a" stroke-width="0.85" />
<line x1="477.77" y1="311.40" x2="479.87" y2="311.40" stroke="#3a3a3a" stroke-width="0.85" />
<line x1="477.77" y1="323.40" x2="479.87" y2="323.40" stroke="#3a3a3a" stroke-width="0.85" />
<polyline points="322.57,322.00 345.72,313.00 363.08,308.75 386.23,317.20 403.59,311.60 432.53,313.00 444.10,314.50 467.25,310.20 478.82,317.40" fill="none" stroke="#000" stroke-width="1.05" stroke-linejoin="round" stroke-dasharray="3.4 2.2"/>
<path d="M322.57,319.30 L325.27,322.00 L322.57,324.70 L319.87,322.00Z" fill="#000"/>
<path d="M345.72,310.30 L348.42,313.00 L345.72,315.70 L343.02,313.00Z" fill="#000"/>
<path d="M363.08,306.05 L365.78,308.75 L363.08,311.45 L360.38,308.75Z" fill="#000"/>
<path d="M386.23,314.50 L388.93,317.20 L386.23,319.90 L383.53,317.20Z" fill="#000"/>
<path d="M403.59,308.90 L406.29,311.60 L403.59,314.30 L400.89,311.60Z" fill="#000"/>
<path d="M432.53,310.30 L435.23,313.00 L432.53,315.70 L429.83,313.00Z" fill="#000"/>
<path d="M444.10,311.80 L446.80,314.50 L444.10,317.20 L441.40,314.50Z" fill="#000"/>
<path d="M467.25,307.50 L469.95,310.20 L467.25,312.90 L464.55,310.20Z" fill="#000"/>
<path d="M478.82,314.70 L481.52,317.40 L478.82,320.10 L476.12,317.40Z" fill="#000"/>
<line x1="322.57" y1="318.50" x2="322.57" y2="325.50" stroke="#3a3a3a" stroke-width="0.85" />
<line x1="321.52" y1="318.50" x2="323.62" y2="318.50" stroke="#3a3a3a" stroke-width="0.85" />
<line x1="321.52" y1="325.50" x2="323.62" y2="325.50" stroke="#3a3a3a" stroke-width="0.85" />
<line x1="345.72" y1="307.25" x2="345.72" y2="315.25" stroke="#3a3a3a" stroke-width="0.85" />
<line x1="344.67" y1="307.25" x2="346.77" y2="307.25" stroke="#3a3a3a" stroke-width="0.85" />
<line x1="344.67" y1="315.25" x2="346.77" y2="315.25" stroke="#3a3a3a" stroke-width="0.85" />
<line x1="363.08" y1="301.00" x2="363.08" y2="309.00" stroke="#3a3a3a" stroke-width="0.85" />
<line x1="362.03" y1="301.00" x2="364.13" y2="301.00" stroke="#3a3a3a" stroke-width="0.85" />
<line x1="362.03" y1="309.00" x2="364.13" y2="309.00" stroke="#3a3a3a" stroke-width="0.85" />
<line x1="386.23" y1="306.30" x2="386.23" y2="313.30" stroke="#3a3a3a" stroke-width="0.85" />
<line x1="385.18" y1="306.30" x2="387.28" y2="306.30" stroke="#3a3a3a" stroke-width="0.85" />
<line x1="385.18" y1="313.30" x2="387.28" y2="313.30" stroke="#3a3a3a" stroke-width="0.85" />
<line x1="403.59" y1="307.50" x2="403.59" y2="314.50" stroke="#3a3a3a" stroke-width="0.85" />
<line x1="402.54" y1="307.50" x2="404.64" y2="307.50" stroke="#3a3a3a" stroke-width="0.85" />
<line x1="402.54" y1="314.50" x2="404.64" y2="314.50" stroke="#3a3a3a" stroke-width="0.85" />
<line x1="432.53" y1="308.00" x2="432.53" y2="317.00" stroke="#3a3a3a" stroke-width="0.85" />
<line x1="431.48" y1="308.00" x2="433.58" y2="308.00" stroke="#3a3a3a" stroke-width="0.85" />
<line x1="431.48" y1="317.00" x2="433.58" y2="317.00" stroke="#3a3a3a" stroke-width="0.85" />
<line x1="444.10" y1="311.40" x2="444.10" y2="319.40" stroke="#3a3a3a" stroke-width="0.85" />
<line x1="443.05" y1="311.40" x2="445.15" y2="311.40" stroke="#3a3a3a" stroke-width="0.85" />
<line x1="443.05" y1="319.40" x2="445.15" y2="319.40" stroke="#3a3a3a" stroke-width="0.85" />
<line x1="467.25" y1="311.40" x2="467.25" y2="319.40" stroke="#3a3a3a" stroke-width="0.85" />
<line x1="466.20" y1="311.40" x2="468.30" y2="311.40" stroke="#3a3a3a" stroke-width="0.85" />
<line x1="466.20" y1="319.40" x2="468.30" y2="319.40" stroke="#3a3a3a" stroke-width="0.85" />
<line x1="478.82" y1="311.30" x2="478.82" y2="322.30" stroke="#3a3a3a" stroke-width="0.85" />
<line x1="477.77" y1="311.30" x2="479.87" y2="311.30" stroke="#3a3a3a" stroke-width="0.85" />
<line x1="477.77" y1="322.30" x2="479.87" y2="322.30" stroke="#3a3a3a" stroke-width="0.85" />
<polyline points="322.57,322.00 345.72,311.25 363.08,305.00 386.23,309.80 403.59,311.00 432.53,312.50 444.10,315.40 467.25,315.40 478.82,316.80" fill="none" stroke="#000" stroke-width="1.2" stroke-linejoin="round" />
<rect x="320.32" y="319.75" width="4.5" height="4.5" fill="#000" stroke="none" stroke-width="0"/>
<rect x="343.47" y="309.00" width="4.5" height="4.5" fill="#000" stroke="none" stroke-width="0"/>
<rect x="360.83" y="302.75" width="4.5" height="4.5" fill="#000" stroke="none" stroke-width="0"/>
<rect x="383.98" y="307.55" width="4.5" height="4.5" fill="#000" stroke="none" stroke-width="0"/>
<rect x="401.34" y="308.75" width="4.5" height="4.5" fill="#000" stroke="none" stroke-width="0"/>
<rect x="430.28" y="310.25" width="4.5" height="4.5" fill="#000" stroke="none" stroke-width="0"/>
<rect x="441.85" y="313.15" width="4.5" height="4.5" fill="#000" stroke="none" stroke-width="0"/>
<rect x="465.00" y="313.15" width="4.5" height="4.5" fill="#000" stroke="none" stroke-width="0"/>
<rect x="476.57" y="314.55" width="4.5" height="4.5" fill="#000" stroke="none" stroke-width="0"/>
<text x="-1.40" y="396.60" font-size="15.8" text-anchor="start" font-weight="bold" style="stroke-width:0.6px">E</text>
<text x="54.20" y="393.20" font-size="11.65" text-anchor="start" font-weight="normal" style="stroke-width:0.5px">SW620</text>
<line x1="37.30" y1="516.50" x2="245.50" y2="516.50" stroke="#444" stroke-width="1" />
<line x1="40.50" y1="403.20" x2="40.50" y2="519.70" stroke="#444" stroke-width="1" />
<line x1="40.50" y1="516.50" x2="40.50" y2="519.70" stroke="#444" stroke-width="1" />
<text x="40.90" y="533.20" font-size="10.2" text-anchor="middle" font-weight="normal" class="u">0</text>
<line x1="69.78" y1="516.50" x2="69.78" y2="519.70" stroke="#444" stroke-width="1" />
<text x="70.18" y="533.20" font-size="10.2" text-anchor="middle" font-weight="normal" class="u">5</text>
<line x1="99.05" y1="516.50" x2="99.05" y2="519.70" stroke="#444" stroke-width="1" />
<text x="99.45" y="533.20" font-size="10.2" text-anchor="middle" font-weight="normal" class="u">10</text>
<line x1="128.32" y1="516.50" x2="128.32" y2="519.70" stroke="#444" stroke-width="1" />
<text x="128.72" y="533.20" font-size="10.2" text-anchor="middle" font-weight="normal" class="u">15</text>
<line x1="157.60" y1="516.50" x2="157.60" y2="519.70" stroke="#444" stroke-width="1" />
<text x="158.00" y="533.20" font-size="10.2" text-anchor="middle" font-weight="normal" class="u">20</text>
<line x1="186.88" y1="516.50" x2="186.88" y2="519.70" stroke="#444" stroke-width="1" />
<text x="187.28" y="533.20" font-size="10.2" text-anchor="middle" font-weight="normal" class="u">25</text>
<line x1="216.15" y1="516.50" x2="216.15" y2="519.70" stroke="#444" stroke-width="1" />
<text x="216.55" y="533.20" font-size="10.2" text-anchor="middle" font-weight="normal" class="u">30</text>
<line x1="245.43" y1="516.50" x2="245.43" y2="519.70" stroke="#444" stroke-width="1" />
<text x="245.83" y="533.20" font-size="10.2" text-anchor="middle" font-weight="normal" class="u">35</text>
<line x1="37.30" y1="516.50" x2="40.50" y2="516.50" stroke="#444" stroke-width="1" />
<text x="34.50" y="521.20" font-size="10.2" text-anchor="end" font-weight="normal" class="u">0</text>
<line x1="37.30" y1="493.94" x2="40.50" y2="493.94" stroke="#444" stroke-width="1" />
<text x="33.90" y="498.64" font-size="10.2" text-anchor="end" font-weight="normal" class="u" letter-spacing="-0.6">0.2</text>
<line x1="37.30" y1="471.38" x2="40.50" y2="471.38" stroke="#444" stroke-width="1" />
<text x="33.90" y="475.88" font-size="10.2" text-anchor="end" font-weight="normal" class="u" letter-spacing="-0.6">0.4</text>
<line x1="37.30" y1="448.82" x2="40.50" y2="448.82" stroke="#444" stroke-width="1" />
<text x="33.90" y="453.12" font-size="10.2" text-anchor="end" font-weight="normal" class="u" letter-spacing="-0.6">0.6</text>
<line x1="37.30" y1="426.26" x2="40.50" y2="426.26" stroke="#444" stroke-width="1" />
<text x="33.90" y="430.26" font-size="10.2" text-anchor="end" font-weight="normal" class="u" letter-spacing="-0.6">0.8</text>
<line x1="37.30" y1="403.70" x2="40.50" y2="403.70" stroke="#444" stroke-width="1" />
<text x="34.50" y="407.80" font-size="10.2" text-anchor="end" font-weight="normal" class="u">1</text>
<text transform="translate(10.40,458.80) rotate(-90)" font-size="11.6" text-anchor="middle">Tumor volume (cm<tspan font-size="8" dy="-3.7">3</tspan><tspan dy="3.7">)</tspan></text>
<text x="143.40" y="548.50" font-size="11.5" text-anchor="middle" font-weight="normal" >Day post implant</text>
<line x1="69.78" y1="500.50" x2="69.78" y2="503.50" stroke="#3a3a3a" stroke-width="0.85" />
<line x1="68.73" y1="500.50" x2="70.83" y2="500.50" stroke="#3a3a3a" stroke-width="0.85" />
<line x1="68.73" y1="503.50" x2="70.83" y2="503.50" stroke="#3a3a3a" stroke-width="0.85" />
<line x1="87.34" y1="494.00" x2="87.34" y2="498.00" stroke="#3a3a3a" stroke-width="0.85" />
<line x1="86.29" y1="494.00" x2="88.39" y2="494.00" stroke="#3a3a3a" stroke-width="0.85" />
<line x1="86.29" y1="498.00" x2="88.39" y2="498.00" stroke="#3a3a3a" stroke-width="0.85" />
<line x1="93.20" y1="491.50" x2="93.20" y2="495.50" stroke="#3a3a3a" stroke-width="0.85" />
<line x1="92.15" y1="491.50" x2="94.25" y2="491.50" stroke="#3a3a3a" stroke-width="0.85" />
<line x1="92.15" y1="495.50" x2="94.25" y2="495.50" stroke="#3a3a3a" stroke-width="0.85" />
<line x1="110.76" y1="484.10" x2="110.76" y2="489.10" stroke="#3a3a3a" stroke-width="0.85" />
<line x1="109.71" y1="484.10" x2="111.81" y2="484.10" stroke="#3a3a3a" stroke-width="0.85" />
<line x1="109.71" y1="489.10" x2="111.81" y2="489.10" stroke="#3a3a3a" stroke-width="0.85" />
<line x1="122.47" y1="475.80" x2="122.47" y2="481.80" stroke="#3a3a3a" stroke-width="0.85" />
<line x1="121.42" y1="475.80" x2="123.52" y2="475.80" stroke="#3a3a3a" stroke-width="0.85" />
<line x1="121.42" y1="481.80" x2="123.52" y2="481.80" stroke="#3a3a3a" stroke-width="0.85" />
<line x1="134.18" y1="471.20" x2="134.18" y2="477.20" stroke="#3a3a3a" stroke-width="0.85" />
<line x1="133.13" y1="471.20" x2="135.23" y2="471.20" stroke="#3a3a3a" stroke-width="0.85" />
<line x1="133.13" y1="477.20" x2="135.23" y2="477.20" stroke="#3a3a3a" stroke-width="0.85" />
<line x1="151.75" y1="457.60" x2="151.75" y2="465.60" stroke="#3a3a3a" stroke-width="0.85" />
<line x1="150.69" y1="457.60" x2="152.80" y2="457.60" stroke="#3a3a3a" stroke-width="0.85" />
<line x1="150.69" y1="465.60" x2="152.80" y2="465.60" stroke="#3a3a3a" stroke-width="0.85" />
<line x1="163.46" y1="444.90" x2="163.46" y2="455.50" stroke="#3a3a3a" stroke-width="0.85" />
<line x1="162.41" y1="444.90" x2="164.51" y2="444.90" stroke="#3a3a3a" stroke-width="0.85" />
<line x1="162.41" y1="455.50" x2="164.51" y2="455.50" stroke="#3a3a3a" stroke-width="0.85" />
<line x1="175.17" y1="434.20" x2="175.17" y2="444.20" stroke="#3a3a3a" stroke-width="0.85" />
<line x1="174.12" y1="434.20" x2="176.22" y2="434.20" stroke="#3a3a3a" stroke-width="0.85" />
<line x1="174.12" y1="444.20" x2="176.22" y2="444.20" stroke="#3a3a3a" stroke-width="0.85" />
<line x1="192.73" y1="417.20" x2="192.73" y2="430.80" stroke="#3a3a3a" stroke-width="0.85" />
<line x1="191.68" y1="417.20" x2="193.78" y2="417.20" stroke="#3a3a3a" stroke-width="0.85" />
<line x1="191.68" y1="430.80" x2="193.78" y2="430.80" stroke="#3a3a3a" stroke-width="0.85" />
<line x1="204.44" y1="404.20" x2="204.44" y2="416.20" stroke="#3a3a3a" stroke-width="0.85" />
<line x1="203.39" y1="404.20" x2="205.49" y2="404.20" stroke="#3a3a3a" stroke-width="0.85" />
<line x1="203.39" y1="416.20" x2="205.49" y2="416.20" stroke="#3a3a3a" stroke-width="0.85" />
<line x1="216.15" y1="398.00" x2="216.15" y2="409.00" stroke="#3a3a3a" stroke-width="0.85" />
<line x1="215.10" y1="398.00" x2="217.20" y2="398.00" stroke="#3a3a3a" stroke-width="0.85" />
<line x1="215.10" y1="409.00" x2="217.20" y2="409.00" stroke="#3a3a3a" stroke-width="0.85" />
<polyline points="69.78,502.00 87.34,496.00 93.20,493.50 110.76,486.60 122.47,478.80 134.18,474.20 151.75,461.60 163.46,450.20 175.17,439.20 192.73,424.00 204.44,410.20 216.15,403.50" fill="none" stroke="#000" stroke-width="1.1" stroke-linejoin="round" />
<line x1="69.78" y1="498.50" x2="69.78" y2="505.50" stroke="#3a3a3a" stroke-width="0.85" />
<line x1="68.73" y1="498.50" x2="70.83" y2="498.50" stroke="#3a3a3a" stroke-width="0.85" />
<line x1="68.73" y1="505.50" x2="70.83" y2="505.50" stroke="#3a3a3a" stroke-width="0.85" />
<line x1="87.34" y1="493.30" x2="87.34" y2="500.30" stroke="#3a3a3a" stroke-width="0.85" />
<line x1="86.29" y1="493.30" x2="88.39" y2="493.30" stroke="#3a3a3a" stroke-width="0.85" />
<line x1="86.29" y1="500.30" x2="88.39" y2="500.30" stroke="#3a3a3a" stroke-width="0.85" />
<line x1="93.20" y1="491.50" x2="93.20" y2="498.50" stroke="#3a3a3a" stroke-width="0.85" />
<line x1="92.15" y1="491.50" x2="94.25" y2="491.50" stroke="#3a3a3a" stroke-width="0.85" />
<line x1="92.15" y1="498.50" x2="94.25" y2="498.50" stroke="#3a3a3a" stroke-width="0.85" />
<line x1="110.76" y1="484.50" x2="110.76" y2="491.50" stroke="#3a3a3a" stroke-width="0.85" />
<line x1="109.71" y1="484.50" x2="111.81" y2="484.50" stroke="#3a3a3a" stroke-width="0.85" />
<line x1="109.71" y1="491.50" x2="111.81" y2="491.50" stroke="#3a3a3a" stroke-width="0.85" />
<line x1="122.47" y1="477.40" x2="122.47" y2="484.40" stroke="#3a3a3a" stroke-width="0.85" />
<line x1="121.42" y1="477.40" x2="123.52" y2="477.40" stroke="#3a3a3a" stroke-width="0.85" />
<line x1="121.42" y1="484.40" x2="123.52" y2="484.40" stroke="#3a3a3a" stroke-width="0.85" />
<line x1="134.18" y1="473.00" x2="134.18" y2="480.00" stroke="#3a3a3a" stroke-width="0.85" />
<line x1="133.13" y1="473.00" x2="135.23" y2="473.00" stroke="#3a3a3a" stroke-width="0.85" />
<line x1="133.13" y1="480.00" x2="135.23" y2="480.00" stroke="#3a3a3a" stroke-width="0.85" />
<line x1="151.75" y1="464.40" x2="151.75" y2="471.40" stroke="#3a3a3a" stroke-width="0.85" />
<line x1="150.69" y1="464.40" x2="152.80" y2="464.40" stroke="#3a3a3a" stroke-width="0.85" />
<line x1="150.69" y1="471.40" x2="152.80" y2="471.40" stroke="#3a3a3a" stroke-width="0.85" />
<line x1="163.46" y1="458.00" x2="163.46" y2="465.00" stroke="#3a3a3a" stroke-width="0.85" />
<line x1="162.41" y1="458.00" x2="164.51" y2="458.00" stroke="#3a3a3a" stroke-width="0.85" />
<line x1="162.41" y1="465.00" x2="164.51" y2="465.00" stroke="#3a3a3a" stroke-width="0.85" />
<line x1="175.17" y1="454.30" x2="175.17" y2="461.30" stroke="#3a3a3a" stroke-width="0.85" />
<line x1="174.12" y1="454.30" x2="176.22" y2="454.30" stroke="#3a3a3a" stroke-width="0.85" />
<line x1="174.12" y1="461.30" x2="176.22" y2="461.30" stroke="#3a3a3a" stroke-width="0.85" />
<line x1="192.73" y1="455.10" x2="192.73" y2="462.10" stroke="#3a3a3a" stroke-width="0.85" />
<line x1="191.68" y1="455.10" x2="193.78" y2="455.10" stroke="#3a3a3a" stroke-width="0.85" />
<line x1="191.68" y1="462.10" x2="193.78" y2="462.10" stroke="#3a3a3a" stroke-width="0.85" />
<line x1="204.44" y1="452.80" x2="204.44" y2="459.80" stroke="#3a3a3a" stroke-width="0.85" />
<line x1="203.39" y1="452.80" x2="205.49" y2="452.80" stroke="#3a3a3a" stroke-width="0.85" />
<line x1="203.39" y1="459.80" x2="205.49" y2="459.80" stroke="#3a3a3a" stroke-width="0.85" />
<line x1="216.15" y1="455.70" x2="216.15" y2="462.70" stroke="#3a3a3a" stroke-width="0.85" />
<line x1="215.10" y1="455.70" x2="217.20" y2="455.70" stroke="#3a3a3a" stroke-width="0.85" />
<line x1="215.10" y1="462.70" x2="217.20" y2="462.70" stroke="#3a3a3a" stroke-width="0.85" />
<polyline points="69.78,502.00 87.34,496.80 93.20,495.00 110.76,488.00 122.47,480.90 134.18,476.50 151.75,467.90 163.46,461.50 175.17,457.80 192.73,458.60 204.44,456.30 216.15,459.20" fill="none" stroke="#000" stroke-width="1.2" stroke-linejoin="round" />
<rect x="67.48" y="499.70" width="4.6" height="4.6" fill="#fff" stroke="#000" stroke-width="1"/>
<rect x="85.04" y="494.50" width="4.6" height="4.6" fill="#fff" stroke="#000" stroke-width="1"/>
<rect x="90.90" y="492.70" width="4.6" height="4.6" fill="#fff" stroke="#000" stroke-width="1"/>
<rect x="108.46" y="485.70" width="4.6" height="4.6" fill="#fff" stroke="#000" stroke-width="1"/>
<rect x="120.17" y="478.60" width="4.6" height="4.6" fill="#fff" stroke="#000" stroke-width="1"/>
<rect x="131.88" y="474.20" width="4.6" height="4.6" fill="#fff" stroke="#000" stroke-width="1"/>
<rect x="149.44" y="465.60" width="4.6" height="4.6" fill="#fff" stroke="#000" stroke-width="1"/>
<rect x="161.16" y="459.20" width="4.6" height="4.6" fill="#fff" stroke="#000" stroke-width="1"/>
<rect x="172.87" y="455.50" width="4.6" height="4.6" fill="#fff" stroke="#000" stroke-width="1"/>
<rect x="190.43" y="456.30" width="4.6" height="4.6" fill="#fff" stroke="#000" stroke-width="1"/>
<rect x="202.14" y="454.00" width="4.6" height="4.6" fill="#fff" stroke="#000" stroke-width="1"/>
<rect x="213.85" y="456.90" width="4.6" height="4.6" fill="#fff" stroke="#000" stroke-width="1"/>
<line x1="69.78" y1="501.00" x2="69.78" y2="504.00" stroke="#3a3a3a" stroke-width="0.85" />
<line x1="68.73" y1="501.00" x2="70.83" y2="501.00" stroke="#3a3a3a" stroke-width="0.85" />
<line x1="68.73" y1="504.00" x2="70.83" y2="504.00" stroke="#3a3a3a" stroke-width="0.85" />
<line x1="87.34" y1="496.80" x2="87.34" y2="500.80" stroke="#3a3a3a" stroke-width="0.85" />
<line x1="86.29" y1="496.80" x2="88.39" y2="496.80" stroke="#3a3a3a" stroke-width="0.85" />
<line x1="86.29" y1="500.80" x2="88.39" y2="500.80" stroke="#3a3a3a" stroke-width="0.85" />
<line x1="93.20" y1="495.50" x2="93.20" y2="499.50" stroke="#3a3a3a" stroke-width="0.85" />
<line x1="92.15" y1="495.50" x2="94.25" y2="495.50" stroke="#3a3a3a" stroke-width="0.85" />
<line x1="92.15" y1="499.50" x2="94.25" y2="499.50" stroke="#3a3a3a" stroke-width="0.85" />
<line x1="110.76" y1="490.80" x2="110.76" y2="495.80" stroke="#3a3a3a" stroke-width="0.85" />
<line x1="109.71" y1="490.80" x2="111.81" y2="490.80" stroke="#3a3a3a" stroke-width="0.85" />
<line x1="109.71" y1="495.80" x2="111.81" y2="495.80" stroke="#3a3a3a" stroke-width="0.85" />
<line x1="122.47" y1="485.00" x2="122.47" y2="491.00" stroke="#3a3a3a" stroke-width="0.85" />
<line x1="121.42" y1="485.00" x2="123.52" y2="485.00" stroke="#3a3a3a" stroke-width="0.85" />
<line x1="121.42" y1="491.00" x2="123.52" y2="491.00" stroke="#3a3a3a" stroke-width="0.85" />
<line x1="134.18" y1="483.60" x2="134.18" y2="489.60" stroke="#3a3a3a" stroke-width="0.85" />
<line x1="133.13" y1="483.60" x2="135.23" y2="483.60" stroke="#3a3a3a" stroke-width="0.85" />
<line x1="133.13" y1="489.60" x2="135.23" y2="489.60" stroke="#3a3a3a" stroke-width="0.85" />
<line x1="151.75" y1="475.00" x2="151.75" y2="481.00" stroke="#3a3a3a" stroke-width="0.85" />
<line x1="150.69" y1="475.00" x2="152.80" y2="475.00" stroke="#3a3a3a" stroke-width="0.85" />
<line x1="150.69" y1="481.00" x2="152.80" y2="481.00" stroke="#3a3a3a" stroke-width="0.85" />
<line x1="163.46" y1="476.40" x2="163.46" y2="482.40" stroke="#3a3a3a" stroke-width="0.85" />
<line x1="162.41" y1="476.40" x2="164.51" y2="476.40" stroke="#3a3a3a" stroke-width="0.85" />
<line x1="162.41" y1="482.40" x2="164.51" y2="482.40" stroke="#3a3a3a" stroke-width="0.85" />
<line x1="175.17" y1="473.50" x2="175.17" y2="479.50" stroke="#3a3a3a" stroke-width="0.85" />
<line x1="174.12" y1="473.50" x2="176.22" y2="473.50" stroke="#3a3a3a" stroke-width="0.85" />
<line x1="174.12" y1="479.50" x2="176.22" y2="479.50" stroke="#3a3a3a" stroke-width="0.85" />
<line x1="192.73" y1="474.00" x2="192.73" y2="482.00" stroke="#3a3a3a" stroke-width="0.85" />
<line x1="191.68" y1="474.00" x2="193.78" y2="474.00" stroke="#3a3a3a" stroke-width="0.85" />
<line x1="191.68" y1="482.00" x2="193.78" y2="482.00" stroke="#3a3a3a" stroke-width="0.85" />
<line x1="204.44" y1="474.00" x2="204.44" y2="482.00" stroke="#3a3a3a" stroke-width="0.85" />
<line x1="203.39" y1="474.00" x2="205.49" y2="474.00" stroke="#3a3a3a" stroke-width="0.85" />
<line x1="203.39" y1="482.00" x2="205.49" y2="482.00" stroke="#3a3a3a" stroke-width="0.85" />
<line x1="216.15" y1="474.50" x2="216.15" y2="482.50" stroke="#3a3a3a" stroke-width="0.85" />
<line x1="215.10" y1="474.50" x2="217.20" y2="474.50" stroke="#3a3a3a" stroke-width="0.85" />
<line x1="215.10" y1="482.50" x2="217.20" y2="482.50" stroke="#3a3a3a" stroke-width="0.85" />
<polyline points="69.78,502.50 87.34,498.80 93.20,497.50 110.76,493.30 122.47,488.00 134.18,486.60 151.75,478.00 163.46,479.40 175.17,476.50 192.73,478.00 204.44,478.00 216.15,478.50" fill="none" stroke="#000" stroke-width="1.25" stroke-linejoin="round" stroke-dasharray="2 2"/>
<line x1="69.78" y1="499.00" x2="69.78" y2="505.00" stroke="#3a3a3a" stroke-width="0.85" />
<line x1="68.73" y1="499.00" x2="70.83" y2="499.00" stroke="#3a3a3a" stroke-width="0.85" />
<line x1="68.73" y1="505.00" x2="70.83" y2="505.00" stroke="#3a3a3a" stroke-width="0.85" />
<line x1="87.34" y1="494.80" x2="87.34" y2="500.80" stroke="#3a3a3a" stroke-width="0.85" />
<line x1="86.29" y1="494.80" x2="88.39" y2="494.80" stroke="#3a3a3a" stroke-width="0.85" />
<line x1="86.29" y1="500.80" x2="88.39" y2="500.80" stroke="#3a3a3a" stroke-width="0.85" />
<line x1="93.20" y1="493.20" x2="93.20" y2="499.20" stroke="#3a3a3a" stroke-width="0.85" />
<line x1="92.15" y1="493.20" x2="94.25" y2="493.20" stroke="#3a3a3a" stroke-width="0.85" />
<line x1="92.15" y1="499.20" x2="94.25" y2="499.20" stroke="#3a3a3a" stroke-width="0.85" />
<line x1="110.76" y1="488.00" x2="110.76" y2="494.00" stroke="#3a3a3a" stroke-width="0.85" />
<line x1="109.71" y1="488.00" x2="111.81" y2="488.00" stroke="#3a3a3a" stroke-width="0.85" />
<line x1="109.71" y1="494.00" x2="111.81" y2="494.00" stroke="#3a3a3a" stroke-width="0.85" />
<line x1="122.47" y1="482.20" x2="122.47" y2="488.20" stroke="#3a3a3a" stroke-width="0.85" />
<line x1="121.42" y1="482.20" x2="123.52" y2="482.20" stroke="#3a3a3a" stroke-width="0.85" />
<line x1="121.42" y1="488.20" x2="123.52" y2="488.20" stroke="#3a3a3a" stroke-width="0.85" />
<line x1="134.18" y1="480.20" x2="134.18" y2="486.20" stroke="#3a3a3a" stroke-width="0.85" />
<line x1="133.13" y1="480.20" x2="135.23" y2="480.20" stroke="#3a3a3a" stroke-width="0.85" />
<line x1="133.13" y1="486.20" x2="135.23" y2="486.20" stroke="#3a3a3a" stroke-width="0.85" />
<line x1="151.75" y1="472.10" x2="151.75" y2="478.10" stroke="#3a3a3a" stroke-width="0.85" />
<line x1="150.69" y1="472.10" x2="152.80" y2="472.10" stroke="#3a3a3a" stroke-width="0.85" />
<line x1="150.69" y1="478.10" x2="152.80" y2="478.10" stroke="#3a3a3a" stroke-width="0.85" />
<line x1="163.46" y1="473.50" x2="163.46" y2="479.50" stroke="#3a3a3a" stroke-width="0.85" />
<line x1="162.41" y1="473.50" x2="164.51" y2="473.50" stroke="#3a3a3a" stroke-width="0.85" />
<line x1="162.41" y1="479.50" x2="164.51" y2="479.50" stroke="#3a3a3a" stroke-width="0.85" />
<line x1="175.17" y1="471.50" x2="175.17" y2="477.50" stroke="#3a3a3a" stroke-width="0.85" />
<line x1="174.12" y1="471.50" x2="176.22" y2="471.50" stroke="#3a3a3a" stroke-width="0.85" />
<line x1="174.12" y1="477.50" x2="176.22" y2="477.50" stroke="#3a3a3a" stroke-width="0.85" />
<line x1="192.73" y1="471.20" x2="192.73" y2="477.20" stroke="#3a3a3a" stroke-width="0.85" />
<line x1="191.68" y1="471.20" x2="193.78" y2="471.20" stroke="#3a3a3a" stroke-width="0.85" />
<line x1="191.68" y1="477.20" x2="193.78" y2="477.20" stroke="#3a3a3a" stroke-width="0.85" />
<line x1="204.44" y1="472.10" x2="204.44" y2="478.10" stroke="#3a3a3a" stroke-width="0.85" />
<line x1="203.39" y1="472.10" x2="205.49" y2="472.10" stroke="#3a3a3a" stroke-width="0.85" />
<line x1="203.39" y1="478.10" x2="205.49" y2="478.10" stroke="#3a3a3a" stroke-width="0.85" />
<line x1="216.15" y1="471.20" x2="216.15" y2="477.20" stroke="#3a3a3a" stroke-width="0.85" />
<line x1="215.10" y1="471.20" x2="217.20" y2="471.20" stroke="#3a3a3a" stroke-width="0.85" />
<line x1="215.10" y1="477.20" x2="217.20" y2="477.20" stroke="#3a3a3a" stroke-width="0.85" />
<polyline points="69.78,502.00 87.34,497.80 93.20,496.20 110.76,491.00 122.47,485.20 134.18,483.20 151.75,475.10 163.46,476.50 175.17,474.50 192.73,474.20 204.44,475.10 216.15,474.20" fill="none" stroke="#000" stroke-width="1.3" stroke-linejoin="round" />
<rect x="67.28" y="499.50" width="5" height="5" fill="#000" stroke="none" stroke-width="0"/>
<rect x="84.84" y="495.30" width="5" height="5" fill="#000" stroke="none" stroke-width="0"/>
<rect x="90.70" y="493.70" width="5" height="5" fill="#000" stroke="none" stroke-width="0"/>
<rect x="108.26" y="488.50" width="5" height="5" fill="#000" stroke="none" stroke-width="0"/>
<rect x="119.97" y="482.70" width="5" height="5" fill="#000" stroke="none" stroke-width="0"/>
<rect x="131.68" y="480.70" width="5" height="5" fill="#000" stroke="none" stroke-width="0"/>
<rect x="149.25" y="472.60" width="5" height="5" fill="#000" stroke="none" stroke-width="0"/>
<rect x="160.96" y="474.00" width="5" height="5" fill="#000" stroke="none" stroke-width="0"/>
<rect x="172.67" y="472.00" width="5" height="5" fill="#000" stroke="none" stroke-width="0"/>
<rect x="190.23" y="471.70" width="5" height="5" fill="#000" stroke="none" stroke-width="0"/>
<rect x="201.94" y="472.60" width="5" height="5" fill="#000" stroke="none" stroke-width="0"/>
<rect x="213.65" y="471.70" width="5" height="5" fill="#000" stroke="none" stroke-width="0"/>
<line x1="69.78" y1="499.00" x2="69.78" y2="505.00" stroke="#3a3a3a" stroke-width="0.85" />
<line x1="68.73" y1="499.00" x2="70.83" y2="499.00" stroke="#3a3a3a" stroke-width="0.85" />
<line x1="68.73" y1="505.00" x2="70.83" y2="505.00" stroke="#3a3a3a" stroke-width="0.85" />
<line x1="87.34" y1="494.30" x2="87.34" y2="500.30" stroke="#3a3a3a" stroke-width="0.85" />
<line x1="86.29" y1="494.30" x2="88.39" y2="494.30" stroke="#3a3a3a" stroke-width="0.85" />
<line x1="86.29" y1="500.30" x2="88.39" y2="500.30" stroke="#3a3a3a" stroke-width="0.85" />
<line x1="93.20" y1="492.50" x2="93.20" y2="498.50" stroke="#3a3a3a" stroke-width="0.85" />
<line x1="92.15" y1="492.50" x2="94.25" y2="492.50" stroke="#3a3a3a" stroke-width="0.85" />
<line x1="92.15" y1="498.50" x2="94.25" y2="498.50" stroke="#3a3a3a" stroke-width="0.85" />
<line x1="110.76" y1="486.50" x2="110.76" y2="492.50" stroke="#3a3a3a" stroke-width="0.85" />
<line x1="109.71" y1="486.50" x2="111.81" y2="486.50" stroke="#3a3a3a" stroke-width="0.85" />
<line x1="109.71" y1="492.50" x2="111.81" y2="492.50" stroke="#3a3a3a" stroke-width="0.85" />
<line x1="122.47" y1="479.90" x2="122.47" y2="485.90" stroke="#3a3a3a" stroke-width="0.85" />
<line x1="121.42" y1="479.90" x2="123.52" y2="479.90" stroke="#3a3a3a" stroke-width="0.85" />
<line x1="121.42" y1="485.90" x2="123.52" y2="485.90" stroke="#3a3a3a" stroke-width="0.85" />
<line x1="134.18" y1="476.40" x2="134.18" y2="482.40" stroke="#3a3a3a" stroke-width="0.85" />
<line x1="133.13" y1="476.40" x2="135.23" y2="476.40" stroke="#3a3a3a" stroke-width="0.85" />
<line x1="133.13" y1="482.40" x2="135.23" y2="482.40" stroke="#3a3a3a" stroke-width="0.85" />
<line x1="151.75" y1="467.20" x2="151.75" y2="473.20" stroke="#3a3a3a" stroke-width="0.85" />
<line x1="150.69" y1="467.20" x2="152.80" y2="467.20" stroke="#3a3a3a" stroke-width="0.85" />
<line x1="150.69" y1="473.20" x2="152.80" y2="473.20" stroke="#3a3a3a" stroke-width="0.85" />
<line x1="163.46" y1="460.60" x2="163.46" y2="466.60" stroke="#3a3a3a" stroke-width="0.85" />
<line x1="162.41" y1="460.60" x2="164.51" y2="460.60" stroke="#3a3a3a" stroke-width="0.85" />
<line x1="162.41" y1="466.60" x2="164.51" y2="466.60" stroke="#3a3a3a" stroke-width="0.85" />
<line x1="175.17" y1="463.40" x2="175.17" y2="469.40" stroke="#3a3a3a" stroke-width="0.85" />
<line x1="174.12" y1="463.40" x2="176.22" y2="463.40" stroke="#3a3a3a" stroke-width="0.85" />
<line x1="174.12" y1="469.40" x2="176.22" y2="469.40" stroke="#3a3a3a" stroke-width="0.85" />
<line x1="192.73" y1="464.00" x2="192.73" y2="470.00" stroke="#3a3a3a" stroke-width="0.85" />
<line x1="191.68" y1="464.00" x2="193.78" y2="464.00" stroke="#3a3a3a" stroke-width="0.85" />
<line x1="191.68" y1="470.00" x2="193.78" y2="470.00" stroke="#3a3a3a" stroke-width="0.85" />
<line x1="204.44" y1="464.00" x2="204.44" y2="470.00" stroke="#3a3a3a" stroke-width="0.85" />
<line x1="203.39" y1="464.00" x2="205.49" y2="464.00" stroke="#3a3a3a" stroke-width="0.85" />
<line x1="203.39" y1="470.00" x2="205.49" y2="470.00" stroke="#3a3a3a" stroke-width="0.85" />
<line x1="216.15" y1="464.00" x2="216.15" y2="470.00" stroke="#3a3a3a" stroke-width="0.85" />
<line x1="215.10" y1="464.00" x2="217.20" y2="464.00" stroke="#3a3a3a" stroke-width="0.85" />
<line x1="215.10" y1="470.00" x2="217.20" y2="470.00" stroke="#3a3a3a" stroke-width="0.85" />
<polyline points="69.78,502.00 87.34,497.30 93.20,495.50 110.76,489.50 122.47,482.90 134.18,479.40 151.75,470.20 163.46,463.60 175.17,466.40 192.73,467.00 204.44,467.00 216.15,467.00" fill="none" stroke="#000" stroke-width="1.2" stroke-linejoin="round" stroke-dasharray="2 2"/>
<path d="M69.78,498.90 L72.88,502.00 L69.78,505.10 L66.68,502.00Z" fill="#000"/>
<path d="M87.34,494.20 L90.44,497.30 L87.34,500.40 L84.24,497.30Z" fill="#000"/>
<path d="M93.20,492.40 L96.30,495.50 L93.20,498.60 L90.10,495.50Z" fill="#000"/>
<path d="M110.76,486.40 L113.86,489.50 L110.76,492.60 L107.66,489.50Z" fill="#000"/>
<path d="M122.47,479.80 L125.57,482.90 L122.47,486.00 L119.37,482.90Z" fill="#000"/>
<path d="M134.18,476.30 L137.28,479.40 L134.18,482.50 L131.08,479.40Z" fill="#000"/>
<path d="M151.75,467.10 L154.84,470.20 L151.75,473.30 L148.65,470.20Z" fill="#000"/>
<path d="M163.46,460.50 L166.56,463.60 L163.46,466.70 L160.36,463.60Z" fill="#000"/>
<path d="M175.17,463.30 L178.27,466.40 L175.17,469.50 L172.07,466.40Z" fill="#000"/>
<path d="M192.73,463.90 L195.83,467.00 L192.73,470.10 L189.63,467.00Z" fill="#000"/>
<path d="M204.44,463.90 L207.54,467.00 L204.44,470.10 L201.34,467.00Z" fill="#000"/>
<path d="M216.15,463.90 L219.25,467.00 L216.15,470.10 L213.05,467.00Z" fill="#000"/>
<line x1="69.78" y1="498.50" x2="69.78" y2="505.50" stroke="#3a3a3a" stroke-width="0.85" />
<line x1="68.73" y1="498.50" x2="70.83" y2="498.50" stroke="#3a3a3a" stroke-width="0.85" />
<line x1="68.73" y1="505.50" x2="70.83" y2="505.50" stroke="#3a3a3a" stroke-width="0.85" />
<line x1="87.34" y1="492.50" x2="87.34" y2="499.50" stroke="#3a3a3a" stroke-width="0.85" />
<line x1="86.29" y1="492.50" x2="88.39" y2="492.50" stroke="#3a3a3a" stroke-width="0.85" />
<line x1="86.29" y1="499.50" x2="88.39" y2="499.50" stroke="#3a3a3a" stroke-width="0.85" />
<line x1="93.20" y1="490.00" x2="93.20" y2="497.00" stroke="#3a3a3a" stroke-width="0.85" />
<line x1="92.15" y1="490.00" x2="94.25" y2="490.00" stroke="#3a3a3a" stroke-width="0.85" />
<line x1="92.15" y1="497.00" x2="94.25" y2="497.00" stroke="#3a3a3a" stroke-width="0.85" />
<line x1="110.76" y1="481.10" x2="110.76" y2="488.10" stroke="#3a3a3a" stroke-width="0.85" />
<line x1="109.71" y1="481.10" x2="111.81" y2="481.10" stroke="#3a3a3a" stroke-width="0.85" />
<line x1="109.71" y1="488.10" x2="111.81" y2="488.10" stroke="#3a3a3a" stroke-width="0.85" />
<line x1="122.47" y1="470.10" x2="122.47" y2="477.10" stroke="#3a3a3a" stroke-width="0.85" />
<line x1="121.42" y1="470.10" x2="123.52" y2="470.10" stroke="#3a3a3a" stroke-width="0.85" />
<line x1="121.42" y1="477.10" x2="123.52" y2="477.10" stroke="#3a3a3a" stroke-width="0.85" />
<line x1="134.18" y1="471.60" x2="134.18" y2="478.60" stroke="#3a3a3a" stroke-width="0.85" />
<line x1="133.13" y1="471.60" x2="135.23" y2="471.60" stroke="#3a3a3a" stroke-width="0.85" />
<line x1="133.13" y1="478.60" x2="135.23" y2="478.60" stroke="#3a3a3a" stroke-width="0.85" />
<line x1="151.75" y1="462.10" x2="151.75" y2="469.10" stroke="#3a3a3a" stroke-width="0.85" />
<line x1="150.69" y1="462.10" x2="152.80" y2="462.10" stroke="#3a3a3a" stroke-width="0.85" />
<line x1="150.69" y1="469.10" x2="152.80" y2="469.10" stroke="#3a3a3a" stroke-width="0.85" />
<line x1="163.46" y1="455.70" x2="163.46" y2="462.70" stroke="#3a3a3a" stroke-width="0.85" />
<line x1="162.41" y1="455.70" x2="164.51" y2="455.70" stroke="#3a3a3a" stroke-width="0.85" />
<line x1="162.41" y1="462.70" x2="164.51" y2="462.70" stroke="#3a3a3a" stroke-width="0.85" />
<line x1="175.17" y1="451.40" x2="175.17" y2="458.40" stroke="#3a3a3a" stroke-width="0.85" />
<line x1="174.12" y1="451.40" x2="176.22" y2="451.40" stroke="#3a3a3a" stroke-width="0.85" />
<line x1="174.12" y1="458.40" x2="176.22" y2="458.40" stroke="#3a3a3a" stroke-width="0.85" />
<line x1="192.73" y1="452.80" x2="192.73" y2="459.80" stroke="#3a3a3a" stroke-width="0.85" />
<line x1="191.68" y1="452.80" x2="193.78" y2="452.80" stroke="#3a3a3a" stroke-width="0.85" />
<line x1="191.68" y1="459.80" x2="193.78" y2="459.80" stroke="#3a3a3a" stroke-width="0.85" />
<line x1="204.44" y1="450.00" x2="204.44" y2="457.00" stroke="#3a3a3a" stroke-width="0.85" />
<line x1="203.39" y1="450.00" x2="205.49" y2="450.00" stroke="#3a3a3a" stroke-width="0.85" />
<line x1="203.39" y1="457.00" x2="205.49" y2="457.00" stroke="#3a3a3a" stroke-width="0.85" />
<line x1="216.15" y1="446.50" x2="216.15" y2="453.50" stroke="#3a3a3a" stroke-width="0.85" />
<line x1="215.10" y1="446.50" x2="217.20" y2="446.50" stroke="#3a3a3a" stroke-width="0.85" />
<line x1="215.10" y1="453.50" x2="217.20" y2="453.50" stroke="#3a3a3a" stroke-width="0.85" />
<polyline points="69.78,502.00 87.34,496.00 93.20,493.50 110.76,484.60 122.47,473.60 134.18,475.10 151.75,465.60 163.46,459.20 175.17,454.90 192.73,456.30 204.44,453.50 216.15,450.00" fill="none" stroke="#000" stroke-width="1.3" stroke-linejoin="round" />
<path d="M69.78,498.70 L73.08,504.64 L66.48,504.64Z" fill="#000"/>
<path d="M87.34,492.70 L90.64,498.64 L84.04,498.64Z" fill="#000"/>
<path d="M93.20,490.20 L96.50,496.14 L89.90,496.14Z" fill="#000"/>
<path d="M110.76,481.30 L114.06,487.24 L107.46,487.24Z" fill="#000"/>
<path d="M122.47,470.30 L125.77,476.24 L119.17,476.24Z" fill="#000"/>
<path d="M134.18,471.80 L137.48,477.74 L130.88,477.74Z" fill="#000"/>
<path d="M151.75,462.30 L155.05,468.24 L148.44,468.24Z" fill="#000"/>
<path d="M163.46,455.90 L166.76,461.84 L160.16,461.84Z" fill="#000"/>
<path d="M175.17,451.60 L178.47,457.54 L171.87,457.54Z" fill="#000"/>
<path d="M192.73,453.00 L196.03,458.94 L189.43,458.94Z" fill="#000"/>
<path d="M204.44,450.20 L207.74,456.14 L201.14,456.14Z" fill="#000"/>
<path d="M216.15,446.70 L219.45,452.64 L212.85,452.64Z" fill="#000"/>
<rect x="67.38" y="499.80" width="4.8" height="4.8" fill="#000" stroke="none" stroke-width="0"/>
<text x="269.30" y="396.60" font-size="15.8" text-anchor="start" font-weight="bold" style="stroke-width:0.6px">F</text>
<text x="321.30" y="393.20" font-size="11.65" text-anchor="start" font-weight="normal" style="stroke-width:0.5px">SW620</text>
<line x1="308.30" y1="517.50" x2="514.00" y2="517.50" stroke="#444" stroke-width="1" />
<line x1="311.50" y1="402.50" x2="311.50" y2="520.70" stroke="#444" stroke-width="1" />
<line x1="311.50" y1="517.50" x2="311.50" y2="520.70" stroke="#444" stroke-width="1" />
<text x="312.30" y="533.10" font-size="10.2" text-anchor="middle" font-weight="normal" class="u">5</text>
<line x1="352.00" y1="517.50" x2="352.00" y2="520.70" stroke="#444" stroke-width="1" />
<text x="352.80" y="533.10" font-size="10.2" text-anchor="middle" font-weight="normal" class="u">15</text>
<line x1="392.50" y1="517.50" x2="392.50" y2="520.70" stroke="#444" stroke-width="1" />
<text x="393.30" y="533.10" font-size="10.2" text-anchor="middle" font-weight="normal" class="u">25</text>
<line x1="433.00" y1="517.50" x2="433.00" y2="520.70" stroke="#444" stroke-width="1" />
<text x="433.80" y="533.10" font-size="10.2" text-anchor="middle" font-weight="normal" class="u">35</text>
<line x1="473.50" y1="517.50" x2="473.50" y2="520.70" stroke="#444" stroke-width="1" />
<text x="474.30" y="533.10" font-size="10.2" text-anchor="middle" font-weight="normal" class="u">45</text>
<line x1="514.00" y1="517.50" x2="514.00" y2="520.70" stroke="#444" stroke-width="1" />
<text x="514.80" y="533.10" font-size="10.2" text-anchor="middle" font-weight="normal" class="u">55</text>
<line x1="311.50" y1="517.50" x2="311.50" y2="520.10" stroke="#444" stroke-width="1" />
<line x1="319.50" y1="517.50" x2="319.50" y2="520.10" stroke="#444" stroke-width="1" />
<line x1="327.50" y1="517.50" x2="327.50" y2="520.10" stroke="#444" stroke-width="1" />
<line x1="335.50" y1="517.50" x2="335.50" y2="520.10" stroke="#444" stroke-width="1" />
<line x1="343.50" y1="517.50" x2="343.50" y2="520.10" stroke="#444" stroke-width="1" />
<line x1="352.50" y1="517.50" x2="352.50" y2="520.10" stroke="#444" stroke-width="1" />
<line x1="360.50" y1="517.50" x2="360.50" y2="520.10" stroke="#444" stroke-width="1" />
<line x1="368.50" y1="517.50" x2="368.50" y2="520.10" stroke="#444" stroke-width="1" />
<line x1="376.50" y1="517.50" x2="376.50" y2="520.10" stroke="#444" stroke-width="1" />
<line x1="384.50" y1="517.50" x2="384.50" y2="520.10" stroke="#444" stroke-width="1" />
<line x1="392.50" y1="517.50" x2="392.50" y2="520.10" stroke="#444" stroke-width="1" />
<line x1="400.50" y1="517.50" x2="400.50" y2="520.10" stroke="#444" stroke-width="1" />
<line x1="408.50" y1="517.50" x2="408.50" y2="520.10" stroke="#444" stroke-width="1" />
<line x1="416.50" y1="517.50" x2="416.50" y2="520.10" stroke="#444" stroke-width="1" />
<line x1="424.50" y1="517.50" x2="424.50" y2="520.10" stroke="#444" stroke-width="1" />
<line x1="433.50" y1="517.50" x2="433.50" y2="520.10" stroke="#444" stroke-width="1" />
<line x1="441.50" y1="517.50" x2="441.50" y2="520.10" stroke="#444" stroke-width="1" />
<line x1="449.50" y1="517.50" x2="449.50" y2="520.10" stroke="#444" stroke-width="1" />
<line x1="457.50" y1="517.50" x2="457.50" y2="520.10" stroke="#444" stroke-width="1" />
<line x1="465.50" y1="517.50" x2="465.50" y2="520.10" stroke="#444" stroke-width="1" />
<line x1="473.50" y1="517.50" x2="473.50" y2="520.10" stroke="#444" stroke-width="1" />
<line x1="481.50" y1="517.50" x2="481.50" y2="520.10" stroke="#444" stroke-width="1" />
<line x1="489.50" y1="517.50" x2="489.50" y2="520.10" stroke="#444" stroke-width="1" />
<line x1="497.50" y1="517.50" x2="497.50" y2="520.10" stroke="#444" stroke-width="1" />
<line x1="505.50" y1="517.50" x2="505.50" y2="520.10" stroke="#444" stroke-width="1" />
<line x1="514.50" y1="517.50" x2="514.50" y2="520.10" stroke="#444" stroke-width="1" />
<line x1="308.30" y1="517.50" x2="311.50" y2="517.50" stroke="#444" stroke-width="1" />
<text x="304.40" y="521.80" font-size="10.2" text-anchor="end" font-weight="normal" class="u">0</text>
<line x1="308.30" y1="501.15" x2="311.50" y2="501.15" stroke="#444" stroke-width="1" />
<text x="303.80" y="505.45" font-size="10.2" text-anchor="end" font-weight="normal" class="u" letter-spacing="-0.6">0.2</text>
<line x1="308.30" y1="484.80" x2="311.50" y2="484.80" stroke="#444" stroke-width="1" />
<text x="303.80" y="489.10" font-size="10.2" text-anchor="end" font-weight="normal" class="u" letter-spacing="-0.6">0.4</text>
<line x1="308.30" y1="468.45" x2="311.50" y2="468.45" stroke="#444" stroke-width="1" />
<text x="303.80" y="472.75" font-size="10.2" text-anchor="end" font-weight="normal" class="u" letter-spacing="-0.6">0.6</text>
<line x1="308.30" y1="452.10" x2="311.50" y2="452.10" stroke="#444" stroke-width="1" />
<text x="303.80" y="456.40" font-size="10.2" text-anchor="end" font-weight="normal" class="u" letter-spacing="-0.6">0.8</text>
<line x1="308.30" y1="435.75" x2="311.50" y2="435.75" stroke="#444" stroke-width="1" />
<text x="304.40" y="440.05" font-size="10.2" text-anchor="end" font-weight="normal" class="u">1</text>
<line x1="308.30" y1="419.40" x2="311.50" y2="419.40" stroke="#444" stroke-width="1" />
<text x="303.80" y="423.70" font-size="10.2" text-anchor="end" font-weight="normal" class="u" letter-spacing="-0.6">1.2</text>
<line x1="308.30" y1="403.05" x2="311.50" y2="403.05" stroke="#444" stroke-width="1" />
<text x="303.80" y="407.35" font-size="10.2" text-anchor="end" font-weight="normal" class="u" letter-spacing="-0.6">1.4</text>
<text transform="translate(280.20,458.80) rotate(-90)" font-size="11.6" text-anchor="middle">Tumor volume (cm<tspan font-size="8" dy="-3.7">3</tspan><tspan dy="3.7">)</tspan></text>
<text x="413.30" y="548.50" font-size="11.5" text-anchor="middle" font-weight="normal" >Day post implant</text>
<line x1="331.75" y1="500.25" x2="331.75" y2="502.25" stroke="#3a3a3a" stroke-width="0.85" />
<line x1="330.70" y1="500.25" x2="332.80" y2="500.25" stroke="#3a3a3a" stroke-width="0.85" />
<line x1="330.70" y1="502.25" x2="332.80" y2="502.25" stroke="#3a3a3a" stroke-width="0.85" />
<line x1="339.85" y1="495.50" x2="339.85" y2="497.50" stroke="#3a3a3a" stroke-width="0.85" />
<line x1="338.80" y1="495.50" x2="340.90" y2="495.50" stroke="#3a3a3a" stroke-width="0.85" />
<line x1="338.80" y1="497.50" x2="340.90" y2="497.50" stroke="#3a3a3a" stroke-width="0.85" />
<line x1="347.95" y1="487.75" x2="347.95" y2="490.75" stroke="#3a3a3a" stroke-width="0.85" />
<line x1="346.90" y1="487.75" x2="349.00" y2="487.75" stroke="#3a3a3a" stroke-width="0.85" />
<line x1="346.90" y1="490.75" x2="349.00" y2="490.75" stroke="#3a3a3a" stroke-width="0.85" />
<line x1="360.10" y1="481.25" x2="360.10" y2="485.25" stroke="#3a3a3a" stroke-width="0.85" />
<line x1="359.05" y1="481.25" x2="361.15" y2="481.25" stroke="#3a3a3a" stroke-width="0.85" />
<line x1="359.05" y1="485.25" x2="361.15" y2="485.25" stroke="#3a3a3a" stroke-width="0.85" />
<line x1="372.25" y1="471.80" x2="372.25" y2="476.20" stroke="#3a3a3a" stroke-width="0.85" />
<line x1="371.20" y1="471.80" x2="373.30" y2="471.80" stroke="#3a3a3a" stroke-width="0.85" />
<line x1="371.20" y1="476.20" x2="373.30" y2="476.20" stroke="#3a3a3a" stroke-width="0.85" />
<line x1="392.50" y1="454.80" x2="392.50" y2="462.00" stroke="#3a3a3a" stroke-width="0.85" />
<line x1="391.45" y1="454.80" x2="393.55" y2="454.80" stroke="#3a3a3a" stroke-width="0.85" />
<line x1="391.45" y1="462.00" x2="393.55" y2="462.00" stroke="#3a3a3a" stroke-width="0.85" />
<line x1="396.55" y1="446.90" x2="396.55" y2="455.90" stroke="#3a3a3a" stroke-width="0.85" />
<line x1="395.50" y1="446.90" x2="397.60" y2="446.90" stroke="#3a3a3a" stroke-width="0.85" />
<line x1="395.50" y1="455.90" x2="397.60" y2="455.90" stroke="#3a3a3a" stroke-width="0.85" />
<line x1="404.65" y1="444.70" x2="404.65" y2="454.70" stroke="#3a3a3a" stroke-width="0.85" />
<line x1="403.60" y1="444.70" x2="405.70" y2="444.70" stroke="#3a3a3a" stroke-width="0.85" />
<line x1="403.60" y1="454.70" x2="405.70" y2="454.70" stroke="#3a3a3a" stroke-width="0.85" />
<line x1="416.80" y1="421.50" x2="416.80" y2="433.50" stroke="#3a3a3a" stroke-width="0.85" />
<line x1="415.75" y1="421.50" x2="417.85" y2="421.50" stroke="#3a3a3a" stroke-width="0.85" />
<line x1="415.75" y1="433.50" x2="417.85" y2="433.50" stroke="#3a3a3a" stroke-width="0.85" />
<line x1="424.90" y1="402.90" x2="424.90" y2="424.50" stroke="#3a3a3a" stroke-width="0.85" />
<line x1="423.85" y1="402.90" x2="425.95" y2="402.90" stroke="#3a3a3a" stroke-width="0.85" />
<line x1="423.85" y1="424.50" x2="425.95" y2="424.50" stroke="#3a3a3a" stroke-width="0.85" />
<line x1="433.00" y1="399.10" x2="433.00" y2="415.50" stroke="#3a3a3a" stroke-width="0.85" />
<line x1="431.95" y1="399.10" x2="434.05" y2="399.10" stroke="#3a3a3a" stroke-width="0.85" />
<line x1="431.95" y1="415.50" x2="434.05" y2="415.50" stroke="#3a3a3a" stroke-width="0.85" />
<polyline points="331.75,501.25 339.85,496.50 347.95,489.25 360.10,483.25 372.25,474.00 392.50,458.40 396.55,451.40 404.65,449.70 416.80,427.50 424.90,413.70 433.00,407.30" fill="none" stroke="#000" stroke-width="1.1" stroke-linejoin="round" />
<line x1="331.75" y1="499.75" x2="331.75" y2="502.75" stroke="#3a3a3a" stroke-width="0.85" />
<line x1="330.70" y1="499.75" x2="332.80" y2="499.75" stroke="#3a3a3a" stroke-width="0.85" />
<line x1="330.70" y1="502.75" x2="332.80" y2="502.75" stroke="#3a3a3a" stroke-width="0.85" />
<line x1="339.85" y1="496.75" x2="339.85" y2="500.75" stroke="#3a3a3a" stroke-width="0.85" />
<line x1="338.80" y1="496.75" x2="340.90" y2="496.75" stroke="#3a3a3a" stroke-width="0.85" />
<line x1="338.80" y1="500.75" x2="340.90" y2="500.75" stroke="#3a3a3a" stroke-width="0.85" />
<line x1="347.95" y1="490.75" x2="347.95" y2="495.75" stroke="#3a3a3a" stroke-width="0.85" />
<line x1="346.90" y1="490.75" x2="349.00" y2="490.75" stroke="#3a3a3a" stroke-width="0.85" />
<line x1="346.90" y1="495.75" x2="349.00" y2="495.75" stroke="#3a3a3a" stroke-width="0.85" />
<line x1="360.10" y1="488.75" x2="360.10" y2="493.75" stroke="#3a3a3a" stroke-width="0.85" />
<line x1="359.05" y1="488.75" x2="361.15" y2="488.75" stroke="#3a3a3a" stroke-width="0.85" />
<line x1="359.05" y1="493.75" x2="361.15" y2="493.75" stroke="#3a3a3a" stroke-width="0.85" />
<line x1="372.25" y1="479.20" x2="372.25" y2="485.20" stroke="#3a3a3a" stroke-width="0.85" />
<line x1="371.20" y1="479.20" x2="373.30" y2="479.20" stroke="#3a3a3a" stroke-width="0.85" />
<line x1="371.20" y1="485.20" x2="373.30" y2="485.20" stroke="#3a3a3a" stroke-width="0.85" />
<line x1="392.50" y1="475.90" x2="392.50" y2="482.90" stroke="#3a3a3a" stroke-width="0.85" />
<line x1="391.45" y1="475.90" x2="393.55" y2="475.90" stroke="#3a3a3a" stroke-width="0.85" />
<line x1="391.45" y1="482.90" x2="393.55" y2="482.90" stroke="#3a3a3a" stroke-width="0.85" />
<line x1="396.55" y1="471.70" x2="396.55" y2="479.70" stroke="#3a3a3a" stroke-width="0.85" />
<line x1="395.50" y1="471.70" x2="397.60" y2="471.70" stroke="#3a3a3a" stroke-width="0.85" />
<line x1="395.50" y1="479.70" x2="397.60" y2="479.70" stroke="#3a3a3a" stroke-width="0.85" />
<line x1="404.65" y1="473.10" x2="404.65" y2="481.10" stroke="#3a3a3a" stroke-width="0.85" />
<line x1="403.60" y1="473.10" x2="405.70" y2="473.10" stroke="#3a3a3a" stroke-width="0.85" />
<line x1="403.60" y1="481.10" x2="405.70" y2="481.10" stroke="#3a3a3a" stroke-width="0.85" />
<line x1="416.80" y1="474.00" x2="416.80" y2="483.00" stroke="#3a3a3a" stroke-width="0.85" />
<line x1="415.75" y1="474.00" x2="417.85" y2="474.00" stroke="#3a3a3a" stroke-width="0.85" />
<line x1="415.75" y1="483.00" x2="417.85" y2="483.00" stroke="#3a3a3a" stroke-width="0.85" />
<line x1="424.90" y1="472.10" x2="424.90" y2="482.10" stroke="#3a3a3a" stroke-width="0.85" />
<line x1="423.85" y1="472.10" x2="425.95" y2="472.10" stroke="#3a3a3a" stroke-width="0.85" />
<line x1="423.85" y1="482.10" x2="425.95" y2="482.10" stroke="#3a3a3a" stroke-width="0.85" />
<line x1="433.00" y1="466.10" x2="433.00" y2="477.10" stroke="#3a3a3a" stroke-width="0.85" />
<line x1="431.95" y1="466.10" x2="434.05" y2="466.10" stroke="#3a3a3a" stroke-width="0.85" />
<line x1="431.95" y1="477.10" x2="434.05" y2="477.10" stroke="#3a3a3a" stroke-width="0.85" />
<line x1="449.20" y1="460.60" x2="449.20" y2="470.60" stroke="#3a3a3a" stroke-width="0.85" />
<line x1="448.15" y1="460.60" x2="450.25" y2="460.60" stroke="#3a3a3a" stroke-width="0.85" />
<line x1="448.15" y1="470.60" x2="450.25" y2="470.60" stroke="#3a3a3a" stroke-width="0.85" />
<line x1="461.35" y1="455.40" x2="461.35" y2="466.00" stroke="#3a3a3a" stroke-width="0.85" />
<line x1="460.30" y1="455.40" x2="462.40" y2="455.40" stroke="#3a3a3a" stroke-width="0.85" />
<line x1="460.30" y1="466.00" x2="462.40" y2="466.00" stroke="#3a3a3a" stroke-width="0.85" />
<line x1="473.50" y1="456.10" x2="473.50" y2="472.10" stroke="#3a3a3a" stroke-width="0.85" />
<line x1="472.45" y1="456.10" x2="474.55" y2="456.10" stroke="#3a3a3a" stroke-width="0.85" />
<line x1="472.45" y1="472.10" x2="474.55" y2="472.10" stroke="#3a3a3a" stroke-width="0.85" />
<line x1="481.60" y1="460.40" x2="481.60" y2="472.40" stroke="#3a3a3a" stroke-width="0.85" />
<line x1="480.55" y1="460.40" x2="482.65" y2="460.40" stroke="#3a3a3a" stroke-width="0.85" />
<line x1="480.55" y1="472.40" x2="482.65" y2="472.40" stroke="#3a3a3a" stroke-width="0.85" />
<line x1="489.70" y1="462.90" x2="489.70" y2="476.90" stroke="#3a3a3a" stroke-width="0.85" />
<line x1="488.65" y1="462.90" x2="490.75" y2="462.90" stroke="#3a3a3a" stroke-width="0.85" />
<line x1="488.65" y1="476.90" x2="490.75" y2="476.90" stroke="#3a3a3a" stroke-width="0.85" />
<line x1="501.85" y1="466.30" x2="501.85" y2="479.30" stroke="#3a3a3a" stroke-width="0.85" />
<line x1="500.80" y1="466.30" x2="502.90" y2="466.30" stroke="#3a3a3a" stroke-width="0.85" />
<line x1="500.80" y1="479.30" x2="502.90" y2="479.30" stroke="#3a3a3a" stroke-width="0.85" />
<polyline points="331.75,501.25 339.85,498.75 347.95,493.25 360.10,491.25 372.25,482.20 392.50,479.40 396.55,475.70 404.65,477.10 416.80,478.50 424.90,477.10 433.00,471.60 449.20,465.60 461.35,460.70 473.50,464.10 481.60,466.40 489.70,469.90 501.85,472.80" fill="none" stroke="#000" stroke-width="1.25" stroke-linejoin="round" />
<rect x="329.25" y="498.75" width="5" height="5" fill="#000" stroke="none" stroke-width="0"/>
<rect x="337.35" y="496.25" width="5" height="5" fill="#000" stroke="none" stroke-width="0"/>
<rect x="345.45" y="490.75" width="5" height="5" fill="#000" stroke="none" stroke-width="0"/>
<rect x="357.60" y="488.75" width="5" height="5" fill="#000" stroke="none" stroke-width="0"/>
<rect x="369.75" y="479.70" width="5" height="5" fill="#000" stroke="none" stroke-width="0"/>
<rect x="390.00" y="476.90" width="5" height="5" fill="#000" stroke="none" stroke-width="0"/>
<rect x="394.05" y="473.20" width="5" height="5" fill="#000" stroke="none" stroke-width="0"/>
<rect x="402.15" y="474.60" width="5" height="5" fill="#000" stroke="none" stroke-width="0"/>
<rect x="414.30" y="476.00" width="5" height="5" fill="#000" stroke="none" stroke-width="0"/>
<rect x="422.40" y="474.60" width="5" height="5" fill="#000" stroke="none" stroke-width="0"/>
<rect x="430.50" y="469.10" width="5" height="5" fill="#000" stroke="none" stroke-width="0"/>
<rect x="446.70" y="463.10" width="5" height="5" fill="#000" stroke="none" stroke-width="0"/>
<rect x="458.85" y="458.20" width="5" height="5" fill="#000" stroke="none" stroke-width="0"/>
<rect x="471.00" y="461.60" width="5" height="5" fill="#000" stroke="none" stroke-width="0"/>
<rect x="479.10" y="463.90" width="5" height="5" fill="#000" stroke="none" stroke-width="0"/>
<rect x="487.20" y="467.40" width="5" height="5" fill="#000" stroke="none" stroke-width="0"/>
<rect x="499.35" y="470.30" width="5" height="5" fill="#000" stroke="none" stroke-width="0"/>
<line x1="334.20" y1="509.80" x2="399.80" y2="509.80" stroke="#000" stroke-width="1.6" />
<path d="M403.80,509.80 L397.40,506.60 L397.40,513.00Z" fill="#000"/>
<line x1="449.30" y1="509.80" x2="492.60" y2="509.80" stroke="#000" stroke-width="1.6" />
<path d="M496.60,509.80 L490.20,506.60 L490.20,513.00Z" fill="#000"/>
<line x1="27.40" y1="570.00" x2="32.60" y2="569.00" stroke="#000" stroke-width="2.4" />
<line x1="41.20" y1="570.00" x2="46.20" y2="569.00" stroke="#000" stroke-width="2.4" />
<line x1="54.60" y1="570.00" x2="59.20" y2="569.00" stroke="#000" stroke-width="2.4" />
<text x="59.70" y="574.70" font-size="10" text-anchor="start" font-weight="normal" style="stroke-width:0.6px">AZD5438 100mg/kgx1</text>
<line x1="192.40" y1="570.60" x2="223.10" y2="570.60" stroke="#000" stroke-width="2.4" />
<rect x="203.85" y="566.65" width="7.3" height="7.3" fill="#000" stroke="none" stroke-width="0"/>
<text x="226.40" y="575.00" font-size="10" text-anchor="start" font-weight="normal" style="stroke-width:0.6px">AZD5438 50mg/kgx2</text>
<line x1="353.80" y1="569.40" x2="358.80" y2="568.40" stroke="#000" stroke-width="2.4" />
<line x1="380.80" y1="569.40" x2="385.80" y2="568.40" stroke="#000" stroke-width="2.4" />
<path d="M370.00,564.80 L373.90,568.70 L370.00,572.60 L366.10,568.70Z" fill="#000"/>
<text x="389.20" y="574.50" font-size="10" text-anchor="start" font-weight="normal" style="stroke-width:0.6px">AZD5438 75mg/kgx1</text>
<line x1="27.80" y1="586.10" x2="58.30" y2="586.10" stroke="#000" stroke-width="2.6" />
<text x="63.30" y="590.70" font-size="10" text-anchor="start" font-weight="normal" style="stroke-width:0.6px">control</text>
<line x1="156.90" y1="587.30" x2="187.70" y2="587.30" stroke="#000" stroke-width="2.4" />
<rect x="169.10" y="584.40" width="5.8" height="5.8" fill="#fff" stroke="#000" stroke-width="1.2"/>
<text x="190.90" y="591.30" font-size="10" text-anchor="start" font-weight="normal" style="stroke-width:0.6px">AZD5438 50mg/kgx1</text>
<line x1="346.90" y1="587.10" x2="377.70" y2="587.10" stroke="#000" stroke-width="2.5" />
<path d="M361.5,582.8 L365.5,590.2 L357.5,590.2Z" fill="#000"/>
<text x="380.80" y="590.80" font-size="10" text-anchor="start" font-weight="normal" style="stroke-width:0.6px">AZD5438 37.5mg/kgx2</text>
</svg>
</body></html>
